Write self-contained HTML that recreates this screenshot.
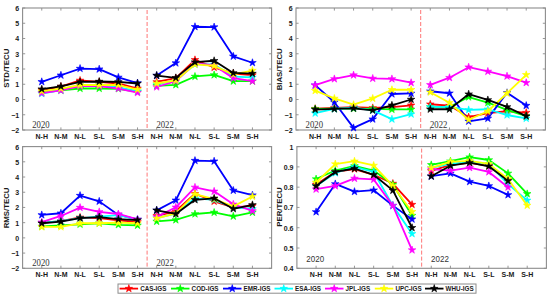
<!DOCTYPE html>
<html><head><meta charset="utf-8"><title>chart</title>
<style>
html,body{margin:0;padding:0;background:#fff;width:550px;height:298px;overflow:hidden}
svg{display:block}
.tl{font-family:"Liberation Sans",sans-serif;font-weight:bold;font-size:7.0px;fill:#1a1a1a}
.yl{font-family:"Liberation Sans",sans-serif;font-weight:bold;font-size:7.8px;fill:#1a1a1a}
.yr{font-family:"Liberation Serif",serif;font-size:8.7px;fill:#333}
.yr2{font-family:"Liberation Sans",sans-serif;font-size:8px;fill:#333}
.lg{font-family:"Liberation Sans",sans-serif;font-weight:bold;font-size:6.3px;fill:#1a1a1a}
</style></head><body>
<svg width="550" height="298" viewBox="0 0 550 298"><rect width="550" height="298" fill="#fff"/><g><rect x="22.6" y="8.0" width="249.00" height="122.0" fill="none" stroke="#8c8c8c" stroke-width="1.1"/><line x1="41.75" y1="130.0" x2="41.75" y2="127.4" stroke="#8c8c8c" stroke-width="0.9"/><line x1="41.75" y1="8.0" x2="41.75" y2="10.6" stroke="#8c8c8c" stroke-width="0.9"/><line x1="60.91" y1="130.0" x2="60.91" y2="127.4" stroke="#8c8c8c" stroke-width="0.9"/><line x1="60.91" y1="8.0" x2="60.91" y2="10.6" stroke="#8c8c8c" stroke-width="0.9"/><line x1="80.06" y1="130.0" x2="80.06" y2="127.4" stroke="#8c8c8c" stroke-width="0.9"/><line x1="80.06" y1="8.0" x2="80.06" y2="10.6" stroke="#8c8c8c" stroke-width="0.9"/><line x1="99.22" y1="130.0" x2="99.22" y2="127.4" stroke="#8c8c8c" stroke-width="0.9"/><line x1="99.22" y1="8.0" x2="99.22" y2="10.6" stroke="#8c8c8c" stroke-width="0.9"/><line x1="118.37" y1="130.0" x2="118.37" y2="127.4" stroke="#8c8c8c" stroke-width="0.9"/><line x1="118.37" y1="8.0" x2="118.37" y2="10.6" stroke="#8c8c8c" stroke-width="0.9"/><line x1="137.52" y1="130.0" x2="137.52" y2="127.4" stroke="#8c8c8c" stroke-width="0.9"/><line x1="137.52" y1="8.0" x2="137.52" y2="10.6" stroke="#8c8c8c" stroke-width="0.9"/><line x1="156.68" y1="130.0" x2="156.68" y2="127.4" stroke="#8c8c8c" stroke-width="0.9"/><line x1="156.68" y1="8.0" x2="156.68" y2="10.6" stroke="#8c8c8c" stroke-width="0.9"/><line x1="175.83" y1="130.0" x2="175.83" y2="127.4" stroke="#8c8c8c" stroke-width="0.9"/><line x1="175.83" y1="8.0" x2="175.83" y2="10.6" stroke="#8c8c8c" stroke-width="0.9"/><line x1="194.98" y1="130.0" x2="194.98" y2="127.4" stroke="#8c8c8c" stroke-width="0.9"/><line x1="194.98" y1="8.0" x2="194.98" y2="10.6" stroke="#8c8c8c" stroke-width="0.9"/><line x1="214.14" y1="130.0" x2="214.14" y2="127.4" stroke="#8c8c8c" stroke-width="0.9"/><line x1="214.14" y1="8.0" x2="214.14" y2="10.6" stroke="#8c8c8c" stroke-width="0.9"/><line x1="233.29" y1="130.0" x2="233.29" y2="127.4" stroke="#8c8c8c" stroke-width="0.9"/><line x1="233.29" y1="8.0" x2="233.29" y2="10.6" stroke="#8c8c8c" stroke-width="0.9"/><line x1="252.45" y1="130.0" x2="252.45" y2="127.4" stroke="#8c8c8c" stroke-width="0.9"/><line x1="252.45" y1="8.0" x2="252.45" y2="10.6" stroke="#8c8c8c" stroke-width="0.9"/><line x1="22.6" y1="130.00" x2="25.200000000000003" y2="130.00" stroke="#8c8c8c" stroke-width="0.9"/><line x1="271.6" y1="130.00" x2="269.0" y2="130.00" stroke="#8c8c8c" stroke-width="0.9"/><line x1="22.6" y1="114.75" x2="25.200000000000003" y2="114.75" stroke="#8c8c8c" stroke-width="0.9"/><line x1="271.6" y1="114.75" x2="269.0" y2="114.75" stroke="#8c8c8c" stroke-width="0.9"/><line x1="22.6" y1="99.50" x2="25.200000000000003" y2="99.50" stroke="#8c8c8c" stroke-width="0.9"/><line x1="271.6" y1="99.50" x2="269.0" y2="99.50" stroke="#8c8c8c" stroke-width="0.9"/><line x1="22.6" y1="84.25" x2="25.200000000000003" y2="84.25" stroke="#8c8c8c" stroke-width="0.9"/><line x1="271.6" y1="84.25" x2="269.0" y2="84.25" stroke="#8c8c8c" stroke-width="0.9"/><line x1="22.6" y1="69.00" x2="25.200000000000003" y2="69.00" stroke="#8c8c8c" stroke-width="0.9"/><line x1="271.6" y1="69.00" x2="269.0" y2="69.00" stroke="#8c8c8c" stroke-width="0.9"/><line x1="22.6" y1="53.75" x2="25.200000000000003" y2="53.75" stroke="#8c8c8c" stroke-width="0.9"/><line x1="271.6" y1="53.75" x2="269.0" y2="53.75" stroke="#8c8c8c" stroke-width="0.9"/><line x1="22.6" y1="38.50" x2="25.200000000000003" y2="38.50" stroke="#8c8c8c" stroke-width="0.9"/><line x1="271.6" y1="38.50" x2="269.0" y2="38.50" stroke="#8c8c8c" stroke-width="0.9"/><line x1="22.6" y1="23.25" x2="25.200000000000003" y2="23.25" stroke="#8c8c8c" stroke-width="0.9"/><line x1="271.6" y1="23.25" x2="269.0" y2="23.25" stroke="#8c8c8c" stroke-width="0.9"/><line x1="22.6" y1="8.00" x2="25.200000000000003" y2="8.00" stroke="#8c8c8c" stroke-width="0.9"/><line x1="271.6" y1="8.00" x2="269.0" y2="8.00" stroke="#8c8c8c" stroke-width="0.9"/><text x="19.20" y="132.90" text-anchor="end" class="tl">−2</text><text x="19.20" y="117.65" text-anchor="end" class="tl">−1</text><text x="19.20" y="102.40" text-anchor="end" class="tl">0</text><text x="19.20" y="87.15" text-anchor="end" class="tl">1</text><text x="19.20" y="71.90" text-anchor="end" class="tl">2</text><text x="19.20" y="56.65" text-anchor="end" class="tl">3</text><text x="19.20" y="41.40" text-anchor="end" class="tl">4</text><text x="19.20" y="26.15" text-anchor="end" class="tl">5</text><text x="19.20" y="10.90" text-anchor="end" class="tl">6</text><text x="41.75" y="138.90" text-anchor="middle" class="tl">N-H</text><text x="60.91" y="138.90" text-anchor="middle" class="tl">N-M</text><text x="80.06" y="138.90" text-anchor="middle" class="tl">N-L</text><text x="99.22" y="138.90" text-anchor="middle" class="tl">S-L</text><text x="118.37" y="138.90" text-anchor="middle" class="tl">S-M</text><text x="137.52" y="138.90" text-anchor="middle" class="tl">S-H</text><text x="156.68" y="138.90" text-anchor="middle" class="tl">N-H</text><text x="175.83" y="138.90" text-anchor="middle" class="tl">N-M</text><text x="194.98" y="138.90" text-anchor="middle" class="tl">N-L</text><text x="214.14" y="138.90" text-anchor="middle" class="tl">S-L</text><text x="233.29" y="138.90" text-anchor="middle" class="tl">S-M</text><text x="252.45" y="138.90" text-anchor="middle" class="tl">S-H</text><text transform="translate(9.20,68.20) rotate(-90)" text-anchor="middle" class="yl">STD/TECU</text><line x1="147.10" y1="8.0" x2="147.10" y2="130.0" stroke="#ff6666" stroke-width="0.9" stroke-dasharray="4,2" stroke-dashoffset="4"/><text transform="translate(32.20,127.80) scale(1,1.13)" class="yr">2020</text><text transform="translate(156.40,127.80) scale(1,1.13)" class="yr">2022</text><polyline points="41.75,90.05 60.91,86.54 80.06,80.44 99.22,81.96 118.37,83.49 137.52,88.52" fill="none" stroke="#ff0000" stroke-width="1.8" stroke-linejoin="round"/><polygon points="41.75,86.05 42.65,88.81 45.56,88.81 43.21,90.52 44.10,93.28 41.75,91.57 39.40,93.28 40.30,90.52 37.95,88.81 40.86,88.81" fill="#ff0000" stroke="#ff0000" stroke-width="0.6" stroke-linejoin="miter"/><polygon points="60.91,82.54 61.81,85.30 64.71,85.30 62.36,87.01 63.26,89.77 60.91,88.07 58.56,89.77 59.45,87.01 57.10,85.30 60.01,85.30" fill="#ff0000" stroke="#ff0000" stroke-width="0.6" stroke-linejoin="miter"/><polygon points="80.06,76.44 80.96,79.20 83.87,79.20 81.51,80.91 82.41,83.67 80.06,81.97 77.71,83.67 78.61,80.91 76.26,79.20 79.16,79.20" fill="#ff0000" stroke="#ff0000" stroke-width="0.6" stroke-linejoin="miter"/><polygon points="99.22,77.96 100.11,80.73 103.02,80.73 100.67,82.43 101.57,85.20 99.22,83.49 96.86,85.20 97.76,82.43 95.41,80.73 98.32,80.73" fill="#ff0000" stroke="#ff0000" stroke-width="0.6" stroke-linejoin="miter"/><polygon points="118.37,79.49 119.27,82.25 122.17,82.25 119.82,83.96 120.72,86.72 118.37,85.02 116.02,86.72 116.92,83.96 114.57,82.25 117.47,82.25" fill="#ff0000" stroke="#ff0000" stroke-width="0.6" stroke-linejoin="miter"/><polygon points="137.52,84.52 138.42,87.28 141.33,87.28 138.98,88.99 139.87,91.76 137.52,90.05 135.17,91.76 136.07,88.99 133.72,87.28 136.62,87.28" fill="#ff0000" stroke="#ff0000" stroke-width="0.6" stroke-linejoin="miter"/><polyline points="156.68,81.96 175.83,78.15 194.98,59.85 214.14,67.48 233.29,73.57 252.45,75.10" fill="none" stroke="#ff0000" stroke-width="1.8" stroke-linejoin="round"/><polygon points="156.68,77.96 157.58,80.73 160.48,80.73 158.13,82.43 159.03,85.20 156.68,83.49 154.33,85.20 155.22,82.43 152.87,80.73 155.78,80.73" fill="#ff0000" stroke="#ff0000" stroke-width="0.6" stroke-linejoin="miter"/><polygon points="175.83,74.15 176.73,76.91 179.63,76.91 177.28,78.62 178.18,81.39 175.83,79.68 173.48,81.39 174.38,78.62 172.03,76.91 174.93,76.91" fill="#ff0000" stroke="#ff0000" stroke-width="0.6" stroke-linejoin="miter"/><polygon points="194.98,55.85 195.88,58.61 198.79,58.61 196.44,60.32 197.34,63.09 194.98,61.38 192.63,63.09 193.53,60.32 191.18,58.61 194.09,58.61" fill="#ff0000" stroke="#ff0000" stroke-width="0.6" stroke-linejoin="miter"/><polygon points="214.14,63.48 215.04,66.24 217.94,66.24 215.59,67.95 216.49,70.71 214.14,69.00 211.79,70.71 212.69,67.95 210.33,66.24 213.24,66.24" fill="#ff0000" stroke="#ff0000" stroke-width="0.6" stroke-linejoin="miter"/><polygon points="233.29,69.57 234.19,72.34 237.10,72.34 234.75,74.05 235.64,76.81 233.29,75.10 230.94,76.81 231.84,74.05 229.49,72.34 232.39,72.34" fill="#ff0000" stroke="#ff0000" stroke-width="0.6" stroke-linejoin="miter"/><polygon points="252.45,71.10 253.34,73.86 256.25,73.86 253.90,75.57 254.80,78.34 252.45,76.63 250.10,78.34 250.99,75.57 248.64,73.86 251.55,73.86" fill="#ff0000" stroke="#ff0000" stroke-width="0.6" stroke-linejoin="miter"/><polyline points="41.75,92.64 60.91,90.35 80.06,88.52 99.22,88.52 118.37,88.82 137.52,91.88" fill="none" stroke="#00ff00" stroke-width="1.8" stroke-linejoin="round"/><polygon points="41.75,88.64 42.65,91.40 45.56,91.40 43.21,93.11 44.10,95.87 41.75,94.17 39.40,95.87 40.30,93.11 37.95,91.40 40.86,91.40" fill="#00ff00" stroke="#00ff00" stroke-width="0.6" stroke-linejoin="miter"/><polygon points="60.91,86.35 61.81,89.11 64.71,89.11 62.36,90.82 63.26,93.59 60.91,91.88 58.56,93.59 59.45,90.82 57.10,89.11 60.01,89.11" fill="#00ff00" stroke="#00ff00" stroke-width="0.6" stroke-linejoin="miter"/><polygon points="80.06,84.52 80.96,87.28 83.87,87.28 81.51,88.99 82.41,91.76 80.06,90.05 77.71,91.76 78.61,88.99 76.26,87.28 79.16,87.28" fill="#00ff00" stroke="#00ff00" stroke-width="0.6" stroke-linejoin="miter"/><polygon points="99.22,84.52 100.11,87.28 103.02,87.28 100.67,88.99 101.57,91.76 99.22,90.05 96.86,91.76 97.76,88.99 95.41,87.28 98.32,87.28" fill="#00ff00" stroke="#00ff00" stroke-width="0.6" stroke-linejoin="miter"/><polygon points="118.37,84.82 119.27,87.59 122.17,87.59 119.82,89.30 120.72,92.06 118.37,90.35 116.02,92.06 116.92,89.30 114.57,87.59 117.47,87.59" fill="#00ff00" stroke="#00ff00" stroke-width="0.6" stroke-linejoin="miter"/><polygon points="137.52,87.88 138.42,90.64 141.33,90.64 138.98,92.35 139.87,95.11 137.52,93.40 135.17,95.11 136.07,92.35 133.72,90.64 136.62,90.64" fill="#00ff00" stroke="#00ff00" stroke-width="0.6" stroke-linejoin="miter"/><polyline points="156.68,85.78 175.83,84.86 194.98,76.47 214.14,74.95 233.29,81.20 252.45,81.20" fill="none" stroke="#00ff00" stroke-width="1.8" stroke-linejoin="round"/><polygon points="156.68,81.78 157.58,84.54 160.48,84.54 158.13,86.25 159.03,89.01 156.68,87.30 154.33,89.01 155.22,86.25 152.87,84.54 155.78,84.54" fill="#00ff00" stroke="#00ff00" stroke-width="0.6" stroke-linejoin="miter"/><polygon points="175.83,80.86 176.73,83.62 179.63,83.62 177.28,85.33 178.18,88.10 175.83,86.39 173.48,88.10 174.38,85.33 172.03,83.62 174.93,83.62" fill="#00ff00" stroke="#00ff00" stroke-width="0.6" stroke-linejoin="miter"/><polygon points="194.98,72.47 195.88,75.24 198.79,75.24 196.44,76.94 197.34,79.71 194.98,78.00 192.63,79.71 193.53,76.94 191.18,75.24 194.09,75.24" fill="#00ff00" stroke="#00ff00" stroke-width="0.6" stroke-linejoin="miter"/><polygon points="214.14,70.95 215.04,73.71 217.94,73.71 215.59,75.42 216.49,78.18 214.14,76.48 211.79,78.18 212.69,75.42 210.33,73.71 213.24,73.71" fill="#00ff00" stroke="#00ff00" stroke-width="0.6" stroke-linejoin="miter"/><polygon points="233.29,77.20 234.19,79.96 237.10,79.96 234.75,81.67 235.64,84.44 233.29,82.73 230.94,84.44 231.84,81.67 229.49,79.96 232.39,79.96" fill="#00ff00" stroke="#00ff00" stroke-width="0.6" stroke-linejoin="miter"/><polygon points="252.45,77.20 253.34,79.96 256.25,79.96 253.90,81.67 254.80,84.44 252.45,82.73 250.10,84.44 250.99,81.67 248.64,79.96 251.55,79.96" fill="#00ff00" stroke="#00ff00" stroke-width="0.6" stroke-linejoin="miter"/><polyline points="41.75,81.81 60.91,75.25 80.06,68.54 99.22,69.15 118.37,77.39 137.52,83.03" fill="none" stroke="#0000ff" stroke-width="1.8" stroke-linejoin="round"/><polygon points="41.75,77.81 42.65,80.57 45.56,80.57 43.21,82.28 44.10,85.05 41.75,83.34 39.40,85.05 40.30,82.28 37.95,80.57 40.86,80.57" fill="#0000ff" stroke="#0000ff" stroke-width="0.6" stroke-linejoin="miter"/><polygon points="60.91,71.25 61.81,74.02 64.71,74.02 62.36,75.72 63.26,78.49 60.91,76.78 58.56,78.49 59.45,75.72 57.10,74.02 60.01,74.02" fill="#0000ff" stroke="#0000ff" stroke-width="0.6" stroke-linejoin="miter"/><polygon points="80.06,64.54 80.96,67.31 83.87,67.31 81.51,69.01 82.41,71.78 80.06,70.07 77.71,71.78 78.61,69.01 76.26,67.31 79.16,67.31" fill="#0000ff" stroke="#0000ff" stroke-width="0.6" stroke-linejoin="miter"/><polygon points="99.22,65.15 100.11,67.92 103.02,67.92 100.67,69.62 101.57,72.39 99.22,70.68 96.86,72.39 97.76,69.62 95.41,67.92 98.32,67.92" fill="#0000ff" stroke="#0000ff" stroke-width="0.6" stroke-linejoin="miter"/><polygon points="118.37,73.39 119.27,76.15 122.17,76.15 119.82,77.86 120.72,80.62 118.37,78.92 116.02,80.62 116.92,77.86 114.57,76.15 117.47,76.15" fill="#0000ff" stroke="#0000ff" stroke-width="0.6" stroke-linejoin="miter"/><polygon points="137.52,79.03 138.42,81.79 141.33,81.79 138.98,83.50 139.87,86.27 137.52,84.56 135.17,86.27 136.07,83.50 133.72,81.79 136.62,81.79" fill="#0000ff" stroke="#0000ff" stroke-width="0.6" stroke-linejoin="miter"/><polyline points="156.68,75.56 175.83,63.05 194.98,26.76 214.14,27.06 233.29,56.34 252.45,62.75" fill="none" stroke="#0000ff" stroke-width="1.8" stroke-linejoin="round"/><polygon points="156.68,71.56 157.58,74.32 160.48,74.32 158.13,76.03 159.03,78.79 156.68,77.09 154.33,78.79 155.22,76.03 152.87,74.32 155.78,74.32" fill="#0000ff" stroke="#0000ff" stroke-width="0.6" stroke-linejoin="miter"/><polygon points="175.83,59.05 176.73,61.82 179.63,61.82 177.28,63.52 178.18,66.29 175.83,64.58 173.48,66.29 174.38,63.52 172.03,61.82 174.93,61.82" fill="#0000ff" stroke="#0000ff" stroke-width="0.6" stroke-linejoin="miter"/><polygon points="194.98,22.76 195.88,25.52 198.79,25.52 196.44,27.23 197.34,29.99 194.98,28.29 192.63,29.99 193.53,27.23 191.18,25.52 194.09,25.52" fill="#0000ff" stroke="#0000ff" stroke-width="0.6" stroke-linejoin="miter"/><polygon points="214.14,23.06 215.04,25.83 217.94,25.83 215.59,27.53 216.49,30.30 214.14,28.59 211.79,30.30 212.69,27.53 210.33,25.83 213.24,25.83" fill="#0000ff" stroke="#0000ff" stroke-width="0.6" stroke-linejoin="miter"/><polygon points="233.29,52.34 234.19,55.11 237.10,55.11 234.75,56.81 235.64,59.58 233.29,57.87 230.94,59.58 231.84,56.81 229.49,55.11 232.39,55.11" fill="#0000ff" stroke="#0000ff" stroke-width="0.6" stroke-linejoin="miter"/><polygon points="252.45,58.75 253.34,61.51 256.25,61.51 253.90,63.22 254.80,65.98 252.45,64.28 250.10,65.98 250.99,63.22 248.64,61.51 251.55,61.51" fill="#0000ff" stroke="#0000ff" stroke-width="0.6" stroke-linejoin="miter"/><polyline points="41.75,93.70 60.91,90.05 80.06,85.01 99.22,85.01 118.37,87.30 137.52,91.11" fill="none" stroke="#00ffff" stroke-width="1.8" stroke-linejoin="round"/><polygon points="41.75,89.70 42.65,92.47 45.56,92.47 43.21,94.18 44.10,96.94 41.75,95.23 39.40,96.94 40.30,94.18 37.95,92.47 40.86,92.47" fill="#00ffff" stroke="#00ffff" stroke-width="0.6" stroke-linejoin="miter"/><polygon points="60.91,86.05 61.81,88.81 64.71,88.81 62.36,90.52 63.26,93.28 60.91,91.57 58.56,93.28 59.45,90.52 57.10,88.81 60.01,88.81" fill="#00ffff" stroke="#00ffff" stroke-width="0.6" stroke-linejoin="miter"/><polygon points="80.06,81.01 80.96,83.78 83.87,83.78 81.51,85.48 82.41,88.25 80.06,86.54 77.71,88.25 78.61,85.48 76.26,83.78 79.16,83.78" fill="#00ffff" stroke="#00ffff" stroke-width="0.6" stroke-linejoin="miter"/><polygon points="99.22,81.01 100.11,83.78 103.02,83.78 100.67,85.48 101.57,88.25 99.22,86.54 96.86,88.25 97.76,85.48 95.41,83.78 98.32,83.78" fill="#00ffff" stroke="#00ffff" stroke-width="0.6" stroke-linejoin="miter"/><polygon points="118.37,83.30 119.27,86.06 122.17,86.06 119.82,87.77 120.72,90.54 118.37,88.83 116.02,90.54 116.92,87.77 114.57,86.06 117.47,86.06" fill="#00ffff" stroke="#00ffff" stroke-width="0.6" stroke-linejoin="miter"/><polygon points="137.52,87.11 138.42,89.88 141.33,89.88 138.98,91.58 139.87,94.35 137.52,92.64 135.17,94.35 136.07,91.58 133.72,89.88 136.62,89.88" fill="#00ffff" stroke="#00ffff" stroke-width="0.6" stroke-linejoin="miter"/><polyline points="156.68,84.25 175.83,80.44 194.98,64.42 214.14,64.42 233.29,76.62 252.45,77.39" fill="none" stroke="#00ffff" stroke-width="1.8" stroke-linejoin="round"/><polygon points="156.68,80.25 157.58,83.01 160.48,83.01 158.13,84.72 159.03,87.49 156.68,85.78 154.33,87.49 155.22,84.72 152.87,83.01 155.78,83.01" fill="#00ffff" stroke="#00ffff" stroke-width="0.6" stroke-linejoin="miter"/><polygon points="175.83,76.44 176.73,79.20 179.63,79.20 177.28,80.91 178.18,83.67 175.83,81.97 173.48,83.67 174.38,80.91 172.03,79.20 174.93,79.20" fill="#00ffff" stroke="#00ffff" stroke-width="0.6" stroke-linejoin="miter"/><polygon points="194.98,60.42 195.88,63.19 198.79,63.19 196.44,64.90 197.34,67.66 194.98,65.95 192.63,67.66 193.53,64.90 191.18,63.19 194.09,63.19" fill="#00ffff" stroke="#00ffff" stroke-width="0.6" stroke-linejoin="miter"/><polygon points="214.14,60.42 215.04,63.19 217.94,63.19 215.59,64.90 216.49,67.66 214.14,65.95 211.79,67.66 212.69,64.90 210.33,63.19 213.24,63.19" fill="#00ffff" stroke="#00ffff" stroke-width="0.6" stroke-linejoin="miter"/><polygon points="233.29,72.62 234.19,75.39 237.10,75.39 234.75,77.10 235.64,79.86 233.29,78.15 230.94,79.86 231.84,77.10 229.49,75.39 232.39,75.39" fill="#00ffff" stroke="#00ffff" stroke-width="0.6" stroke-linejoin="miter"/><polygon points="252.45,73.39 253.34,76.15 256.25,76.15 253.90,77.86 254.80,80.62 252.45,78.92 250.10,80.62 250.99,77.86 248.64,76.15 251.55,76.15" fill="#00ffff" stroke="#00ffff" stroke-width="0.6" stroke-linejoin="miter"/><polyline points="41.75,93.09 60.91,90.35 80.06,86.08 99.22,86.08 118.37,88.52 137.52,92.64" fill="none" stroke="#ff00ff" stroke-width="1.8" stroke-linejoin="round"/><polygon points="41.75,89.09 42.65,91.86 45.56,91.86 43.21,93.57 44.10,96.33 41.75,94.62 39.40,96.33 40.30,93.57 37.95,91.86 40.86,91.86" fill="#ff00ff" stroke="#ff00ff" stroke-width="0.6" stroke-linejoin="miter"/><polygon points="60.91,86.35 61.81,89.11 64.71,89.11 62.36,90.82 63.26,93.59 60.91,91.88 58.56,93.59 59.45,90.82 57.10,89.11 60.01,89.11" fill="#ff00ff" stroke="#ff00ff" stroke-width="0.6" stroke-linejoin="miter"/><polygon points="80.06,82.08 80.96,84.84 83.87,84.84 81.51,86.55 82.41,89.32 80.06,87.61 77.71,89.32 78.61,86.55 76.26,84.84 79.16,84.84" fill="#ff00ff" stroke="#ff00ff" stroke-width="0.6" stroke-linejoin="miter"/><polygon points="99.22,82.08 100.11,84.84 103.02,84.84 100.67,86.55 101.57,89.32 99.22,87.61 96.86,89.32 97.76,86.55 95.41,84.84 98.32,84.84" fill="#ff00ff" stroke="#ff00ff" stroke-width="0.6" stroke-linejoin="miter"/><polygon points="118.37,84.52 119.27,87.28 122.17,87.28 119.82,88.99 120.72,91.76 118.37,90.05 116.02,91.76 116.92,88.99 114.57,87.28 117.47,87.28" fill="#ff00ff" stroke="#ff00ff" stroke-width="0.6" stroke-linejoin="miter"/><polygon points="137.52,88.64 138.42,91.40 141.33,91.40 138.98,93.11 139.87,95.87 137.52,94.17 135.17,95.87 136.07,93.11 133.72,91.40 136.62,91.40" fill="#ff00ff" stroke="#ff00ff" stroke-width="0.6" stroke-linejoin="miter"/><polyline points="156.68,87.00 175.83,81.20 194.98,63.66 214.14,65.19 233.29,78.15 252.45,81.20" fill="none" stroke="#ff00ff" stroke-width="1.8" stroke-linejoin="round"/><polygon points="156.68,83.00 157.58,85.76 160.48,85.76 158.13,87.47 159.03,90.23 156.68,88.52 154.33,90.23 155.22,87.47 152.87,85.76 155.78,85.76" fill="#ff00ff" stroke="#ff00ff" stroke-width="0.6" stroke-linejoin="miter"/><polygon points="175.83,77.20 176.73,79.96 179.63,79.96 177.28,81.67 178.18,84.44 175.83,82.73 173.48,84.44 174.38,81.67 172.03,79.96 174.93,79.96" fill="#ff00ff" stroke="#ff00ff" stroke-width="0.6" stroke-linejoin="miter"/><polygon points="194.98,59.66 195.88,62.43 198.79,62.43 196.44,64.13 197.34,66.90 194.98,65.19 192.63,66.90 193.53,64.13 191.18,62.43 194.09,62.43" fill="#ff00ff" stroke="#ff00ff" stroke-width="0.6" stroke-linejoin="miter"/><polygon points="214.14,61.19 215.04,63.95 217.94,63.95 215.59,65.66 216.49,68.42 214.14,66.72 211.79,68.42 212.69,65.66 210.33,63.95 213.24,63.95" fill="#ff00ff" stroke="#ff00ff" stroke-width="0.6" stroke-linejoin="miter"/><polygon points="233.29,74.15 234.19,76.91 237.10,76.91 234.75,78.62 235.64,81.39 233.29,79.68 230.94,81.39 231.84,78.62 229.49,76.91 232.39,76.91" fill="#ff00ff" stroke="#ff00ff" stroke-width="0.6" stroke-linejoin="miter"/><polygon points="252.45,77.20 253.34,79.96 256.25,79.96 253.90,81.67 254.80,84.44 252.45,82.73 250.10,84.44 250.99,81.67 248.64,79.96 251.55,79.96" fill="#ff00ff" stroke="#ff00ff" stroke-width="0.6" stroke-linejoin="miter"/><polyline points="41.75,91.11 60.91,88.52 80.06,85.01 99.22,85.01 118.37,85.01 137.52,89.59" fill="none" stroke="#ffff00" stroke-width="1.8" stroke-linejoin="round"/><polygon points="41.75,87.11 42.65,89.88 45.56,89.88 43.21,91.58 44.10,94.35 41.75,92.64 39.40,94.35 40.30,91.58 37.95,89.88 40.86,89.88" fill="#ffff00" stroke="#ffff00" stroke-width="0.6" stroke-linejoin="miter"/><polygon points="60.91,84.52 61.81,87.28 64.71,87.28 62.36,88.99 63.26,91.76 60.91,90.05 58.56,91.76 59.45,88.99 57.10,87.28 60.01,87.28" fill="#ffff00" stroke="#ffff00" stroke-width="0.6" stroke-linejoin="miter"/><polygon points="80.06,81.01 80.96,83.78 83.87,83.78 81.51,85.48 82.41,88.25 80.06,86.54 77.71,88.25 78.61,85.48 76.26,83.78 79.16,83.78" fill="#ffff00" stroke="#ffff00" stroke-width="0.6" stroke-linejoin="miter"/><polygon points="99.22,81.01 100.11,83.78 103.02,83.78 100.67,85.48 101.57,88.25 99.22,86.54 96.86,88.25 97.76,85.48 95.41,83.78 98.32,83.78" fill="#ffff00" stroke="#ffff00" stroke-width="0.6" stroke-linejoin="miter"/><polygon points="118.37,81.01 119.27,83.78 122.17,83.78 119.82,85.48 120.72,88.25 118.37,86.54 116.02,88.25 116.92,85.48 114.57,83.78 117.47,83.78" fill="#ffff00" stroke="#ffff00" stroke-width="0.6" stroke-linejoin="miter"/><polygon points="137.52,85.59 138.42,88.35 141.33,88.35 138.98,90.06 139.87,92.82 137.52,91.12 135.17,92.82 136.07,90.06 133.72,88.35 136.62,88.35" fill="#ffff00" stroke="#ffff00" stroke-width="0.6" stroke-linejoin="miter"/><polyline points="156.68,83.49 175.83,80.44 194.98,64.42 214.14,65.95 233.29,74.34 252.45,70.53" fill="none" stroke="#ffff00" stroke-width="1.8" stroke-linejoin="round"/><polygon points="156.68,79.49 157.58,82.25 160.48,82.25 158.13,83.96 159.03,86.72 156.68,85.02 154.33,86.72 155.22,83.96 152.87,82.25 155.78,82.25" fill="#ffff00" stroke="#ffff00" stroke-width="0.6" stroke-linejoin="miter"/><polygon points="175.83,76.44 176.73,79.20 179.63,79.20 177.28,80.91 178.18,83.67 175.83,81.97 173.48,83.67 174.38,80.91 172.03,79.20 174.93,79.20" fill="#ffff00" stroke="#ffff00" stroke-width="0.6" stroke-linejoin="miter"/><polygon points="194.98,60.42 195.88,63.19 198.79,63.19 196.44,64.90 197.34,67.66 194.98,65.95 192.63,67.66 193.53,64.90 191.18,63.19 194.09,63.19" fill="#ffff00" stroke="#ffff00" stroke-width="0.6" stroke-linejoin="miter"/><polygon points="214.14,61.95 215.04,64.71 217.94,64.71 215.59,66.42 216.49,69.19 214.14,67.48 211.79,69.19 212.69,66.42 210.33,64.71 213.24,64.71" fill="#ffff00" stroke="#ffff00" stroke-width="0.6" stroke-linejoin="miter"/><polygon points="233.29,70.34 234.19,73.10 237.10,73.10 234.75,74.81 235.64,77.57 233.29,75.87 230.94,77.57 231.84,74.81 229.49,73.10 232.39,73.10" fill="#ffff00" stroke="#ffff00" stroke-width="0.6" stroke-linejoin="miter"/><polygon points="252.45,66.53 253.34,69.29 256.25,69.29 253.90,71.00 254.80,73.76 252.45,72.05 250.10,73.76 250.99,71.00 248.64,69.29 251.55,69.29" fill="#ffff00" stroke="#ffff00" stroke-width="0.6" stroke-linejoin="miter"/><polyline points="41.75,89.13 60.91,86.39 80.06,81.96 99.22,81.50 118.37,81.96 137.52,83.49" fill="none" stroke="#000000" stroke-width="1.8" stroke-linejoin="round"/><polygon points="41.75,85.13 42.65,87.89 45.56,87.89 43.21,89.60 44.10,92.37 41.75,90.66 39.40,92.37 40.30,89.60 37.95,87.89 40.86,87.89" fill="#000000" stroke="#000000" stroke-width="0.6" stroke-linejoin="miter"/><polygon points="60.91,82.39 61.81,85.15 64.71,85.15 62.36,86.86 63.26,89.62 60.91,87.91 58.56,89.62 59.45,86.86 57.10,85.15 60.01,85.15" fill="#000000" stroke="#000000" stroke-width="0.6" stroke-linejoin="miter"/><polygon points="80.06,77.96 80.96,80.73 83.87,80.73 81.51,82.43 82.41,85.20 80.06,83.49 77.71,85.20 78.61,82.43 76.26,80.73 79.16,80.73" fill="#000000" stroke="#000000" stroke-width="0.6" stroke-linejoin="miter"/><polygon points="99.22,77.50 100.11,80.27 103.02,80.27 100.67,81.98 101.57,84.74 99.22,83.03 96.86,84.74 97.76,81.98 95.41,80.27 98.32,80.27" fill="#000000" stroke="#000000" stroke-width="0.6" stroke-linejoin="miter"/><polygon points="118.37,77.96 119.27,80.73 122.17,80.73 119.82,82.43 120.72,85.20 118.37,83.49 116.02,85.20 116.92,82.43 114.57,80.73 117.47,80.73" fill="#000000" stroke="#000000" stroke-width="0.6" stroke-linejoin="miter"/><polygon points="137.52,79.49 138.42,82.25 141.33,82.25 138.98,83.96 139.87,86.72 137.52,85.02 135.17,86.72 136.07,83.96 133.72,82.25 136.62,82.25" fill="#000000" stroke="#000000" stroke-width="0.6" stroke-linejoin="miter"/><polyline points="156.68,75.56 175.83,77.84 194.98,62.14 214.14,60.77 233.29,72.97 252.45,73.57" fill="none" stroke="#000000" stroke-width="1.8" stroke-linejoin="round"/><polygon points="156.68,71.56 157.58,74.32 160.48,74.32 158.13,76.03 159.03,78.79 156.68,77.09 154.33,78.79 155.22,76.03 152.87,74.32 155.78,74.32" fill="#000000" stroke="#000000" stroke-width="0.6" stroke-linejoin="miter"/><polygon points="175.83,73.84 176.73,76.61 179.63,76.61 177.28,78.32 178.18,81.08 175.83,79.37 173.48,81.08 174.38,78.32 172.03,76.61 174.93,76.61" fill="#000000" stroke="#000000" stroke-width="0.6" stroke-linejoin="miter"/><polygon points="194.98,58.14 195.88,60.90 198.79,60.90 196.44,62.61 197.34,65.37 194.98,63.67 192.63,65.37 193.53,62.61 191.18,60.90 194.09,60.90" fill="#000000" stroke="#000000" stroke-width="0.6" stroke-linejoin="miter"/><polygon points="214.14,56.77 215.04,59.53 217.94,59.53 215.59,61.24 216.49,64.00 214.14,62.29 211.79,64.00 212.69,61.24 210.33,59.53 213.24,59.53" fill="#000000" stroke="#000000" stroke-width="0.6" stroke-linejoin="miter"/><polygon points="233.29,68.97 234.19,71.73 237.10,71.73 234.75,73.44 235.64,76.20 233.29,74.49 230.94,76.20 231.84,73.44 229.49,71.73 232.39,71.73" fill="#000000" stroke="#000000" stroke-width="0.6" stroke-linejoin="miter"/><polygon points="252.45,69.57 253.34,72.34 256.25,72.34 253.90,74.05 254.80,76.81 252.45,75.10 250.10,76.81 250.99,74.05 248.64,72.34 251.55,72.34" fill="#000000" stroke="#000000" stroke-width="0.6" stroke-linejoin="miter"/></g><g><rect x="296.0" y="8.0" width="249.40" height="122.0" fill="none" stroke="#8c8c8c" stroke-width="1.1"/><line x1="315.18" y1="130.0" x2="315.18" y2="127.4" stroke="#8c8c8c" stroke-width="0.9"/><line x1="315.18" y1="8.0" x2="315.18" y2="10.6" stroke="#8c8c8c" stroke-width="0.9"/><line x1="334.37" y1="130.0" x2="334.37" y2="127.4" stroke="#8c8c8c" stroke-width="0.9"/><line x1="334.37" y1="8.0" x2="334.37" y2="10.6" stroke="#8c8c8c" stroke-width="0.9"/><line x1="353.55" y1="130.0" x2="353.55" y2="127.4" stroke="#8c8c8c" stroke-width="0.9"/><line x1="353.55" y1="8.0" x2="353.55" y2="10.6" stroke="#8c8c8c" stroke-width="0.9"/><line x1="372.74" y1="130.0" x2="372.74" y2="127.4" stroke="#8c8c8c" stroke-width="0.9"/><line x1="372.74" y1="8.0" x2="372.74" y2="10.6" stroke="#8c8c8c" stroke-width="0.9"/><line x1="391.92" y1="130.0" x2="391.92" y2="127.4" stroke="#8c8c8c" stroke-width="0.9"/><line x1="391.92" y1="8.0" x2="391.92" y2="10.6" stroke="#8c8c8c" stroke-width="0.9"/><line x1="411.11" y1="130.0" x2="411.11" y2="127.4" stroke="#8c8c8c" stroke-width="0.9"/><line x1="411.11" y1="8.0" x2="411.11" y2="10.6" stroke="#8c8c8c" stroke-width="0.9"/><line x1="430.29" y1="130.0" x2="430.29" y2="127.4" stroke="#8c8c8c" stroke-width="0.9"/><line x1="430.29" y1="8.0" x2="430.29" y2="10.6" stroke="#8c8c8c" stroke-width="0.9"/><line x1="449.48" y1="130.0" x2="449.48" y2="127.4" stroke="#8c8c8c" stroke-width="0.9"/><line x1="449.48" y1="8.0" x2="449.48" y2="10.6" stroke="#8c8c8c" stroke-width="0.9"/><line x1="468.66" y1="130.0" x2="468.66" y2="127.4" stroke="#8c8c8c" stroke-width="0.9"/><line x1="468.66" y1="8.0" x2="468.66" y2="10.6" stroke="#8c8c8c" stroke-width="0.9"/><line x1="487.85" y1="130.0" x2="487.85" y2="127.4" stroke="#8c8c8c" stroke-width="0.9"/><line x1="487.85" y1="8.0" x2="487.85" y2="10.6" stroke="#8c8c8c" stroke-width="0.9"/><line x1="507.03" y1="130.0" x2="507.03" y2="127.4" stroke="#8c8c8c" stroke-width="0.9"/><line x1="507.03" y1="8.0" x2="507.03" y2="10.6" stroke="#8c8c8c" stroke-width="0.9"/><line x1="526.22" y1="130.0" x2="526.22" y2="127.4" stroke="#8c8c8c" stroke-width="0.9"/><line x1="526.22" y1="8.0" x2="526.22" y2="10.6" stroke="#8c8c8c" stroke-width="0.9"/><line x1="296.0" y1="130.00" x2="298.6" y2="130.00" stroke="#8c8c8c" stroke-width="0.9"/><line x1="545.4" y1="130.00" x2="542.8" y2="130.00" stroke="#8c8c8c" stroke-width="0.9"/><line x1="296.0" y1="114.75" x2="298.6" y2="114.75" stroke="#8c8c8c" stroke-width="0.9"/><line x1="545.4" y1="114.75" x2="542.8" y2="114.75" stroke="#8c8c8c" stroke-width="0.9"/><line x1="296.0" y1="99.50" x2="298.6" y2="99.50" stroke="#8c8c8c" stroke-width="0.9"/><line x1="545.4" y1="99.50" x2="542.8" y2="99.50" stroke="#8c8c8c" stroke-width="0.9"/><line x1="296.0" y1="84.25" x2="298.6" y2="84.25" stroke="#8c8c8c" stroke-width="0.9"/><line x1="545.4" y1="84.25" x2="542.8" y2="84.25" stroke="#8c8c8c" stroke-width="0.9"/><line x1="296.0" y1="69.00" x2="298.6" y2="69.00" stroke="#8c8c8c" stroke-width="0.9"/><line x1="545.4" y1="69.00" x2="542.8" y2="69.00" stroke="#8c8c8c" stroke-width="0.9"/><line x1="296.0" y1="53.75" x2="298.6" y2="53.75" stroke="#8c8c8c" stroke-width="0.9"/><line x1="545.4" y1="53.75" x2="542.8" y2="53.75" stroke="#8c8c8c" stroke-width="0.9"/><line x1="296.0" y1="38.50" x2="298.6" y2="38.50" stroke="#8c8c8c" stroke-width="0.9"/><line x1="545.4" y1="38.50" x2="542.8" y2="38.50" stroke="#8c8c8c" stroke-width="0.9"/><line x1="296.0" y1="23.25" x2="298.6" y2="23.25" stroke="#8c8c8c" stroke-width="0.9"/><line x1="545.4" y1="23.25" x2="542.8" y2="23.25" stroke="#8c8c8c" stroke-width="0.9"/><line x1="296.0" y1="8.00" x2="298.6" y2="8.00" stroke="#8c8c8c" stroke-width="0.9"/><line x1="545.4" y1="8.00" x2="542.8" y2="8.00" stroke="#8c8c8c" stroke-width="0.9"/><text x="292.60" y="132.90" text-anchor="end" class="tl">−2</text><text x="292.60" y="117.65" text-anchor="end" class="tl">−1</text><text x="292.60" y="102.40" text-anchor="end" class="tl">0</text><text x="292.60" y="87.15" text-anchor="end" class="tl">1</text><text x="292.60" y="71.90" text-anchor="end" class="tl">2</text><text x="292.60" y="56.65" text-anchor="end" class="tl">3</text><text x="292.60" y="41.40" text-anchor="end" class="tl">4</text><text x="292.60" y="26.15" text-anchor="end" class="tl">5</text><text x="292.60" y="10.90" text-anchor="end" class="tl">6</text><text x="315.18" y="138.90" text-anchor="middle" class="tl">N-H</text><text x="334.37" y="138.90" text-anchor="middle" class="tl">N-M</text><text x="353.55" y="138.90" text-anchor="middle" class="tl">N-L</text><text x="372.74" y="138.90" text-anchor="middle" class="tl">S-L</text><text x="391.92" y="138.90" text-anchor="middle" class="tl">S-M</text><text x="411.11" y="138.90" text-anchor="middle" class="tl">S-H</text><text x="430.29" y="138.90" text-anchor="middle" class="tl">N-H</text><text x="449.48" y="138.90" text-anchor="middle" class="tl">N-M</text><text x="468.66" y="138.90" text-anchor="middle" class="tl">N-L</text><text x="487.85" y="138.90" text-anchor="middle" class="tl">S-L</text><text x="507.03" y="138.90" text-anchor="middle" class="tl">S-M</text><text x="526.22" y="138.90" text-anchor="middle" class="tl">S-H</text><text transform="translate(282.00,69.30) rotate(-90)" text-anchor="middle" class="yl">BIAS/TECU</text><line x1="420.70" y1="8.0" x2="420.70" y2="130.0" stroke="#ff6666" stroke-width="0.9" stroke-dasharray="4,2" stroke-dashoffset="4"/><text transform="translate(305.60,127.80) scale(1,1.13)" class="yr">2020</text><text transform="translate(430.00,127.80) scale(1,1.13)" class="yr">2022</text><polyline points="315.18,108.65 334.37,107.89 353.55,107.12 372.74,107.89 391.92,107.12 411.11,105.30" fill="none" stroke="#ff0000" stroke-width="1.8" stroke-linejoin="round"/><polygon points="315.18,104.65 316.08,107.41 318.99,107.41 316.64,109.12 317.54,111.89 315.18,110.18 312.83,111.89 313.73,109.12 311.38,107.41 314.29,107.41" fill="#ff0000" stroke="#ff0000" stroke-width="0.6" stroke-linejoin="miter"/><polygon points="334.37,103.89 335.27,106.65 338.17,106.65 335.82,108.36 336.72,111.12 334.37,109.42 332.02,111.12 332.92,108.36 330.57,106.65 333.47,106.65" fill="#ff0000" stroke="#ff0000" stroke-width="0.6" stroke-linejoin="miter"/><polygon points="353.55,103.12 354.45,105.89 357.36,105.89 355.01,107.60 355.90,110.36 353.55,108.65 351.20,110.36 352.10,107.60 349.75,105.89 352.66,105.89" fill="#ff0000" stroke="#ff0000" stroke-width="0.6" stroke-linejoin="miter"/><polygon points="372.74,103.89 373.64,106.65 376.54,106.65 374.19,108.36 375.09,111.12 372.74,109.42 370.39,111.12 371.29,108.36 368.93,106.65 371.84,106.65" fill="#ff0000" stroke="#ff0000" stroke-width="0.6" stroke-linejoin="miter"/><polygon points="391.92,103.12 392.82,105.89 395.73,105.89 393.38,107.60 394.27,110.36 391.92,108.65 389.57,110.36 390.47,107.60 388.12,105.89 391.02,105.89" fill="#ff0000" stroke="#ff0000" stroke-width="0.6" stroke-linejoin="miter"/><polygon points="411.11,101.30 412.01,104.06 414.91,104.06 412.56,105.77 413.46,108.53 411.11,106.82 408.76,108.53 409.65,105.77 407.30,104.06 410.21,104.06" fill="#ff0000" stroke="#ff0000" stroke-width="0.6" stroke-linejoin="miter"/><polyline points="430.29,104.23 449.48,105.60 468.66,117.04 487.85,113.22 507.03,111.24 526.22,112.61" fill="none" stroke="#ff0000" stroke-width="1.8" stroke-linejoin="round"/><polygon points="430.29,100.23 431.19,102.99 434.10,102.99 431.75,104.70 432.64,107.46 430.29,105.76 427.94,107.46 428.84,104.70 426.49,102.99 429.39,102.99" fill="#ff0000" stroke="#ff0000" stroke-width="0.6" stroke-linejoin="miter"/><polygon points="449.48,101.60 450.38,104.36 453.28,104.36 450.93,106.07 451.83,108.84 449.48,107.13 447.13,108.84 448.02,106.07 445.67,104.36 448.58,104.36" fill="#ff0000" stroke="#ff0000" stroke-width="0.6" stroke-linejoin="miter"/><polygon points="468.66,113.04 469.56,115.80 472.47,115.80 470.11,117.51 471.01,120.27 468.66,118.57 466.31,120.27 467.21,117.51 464.86,115.80 467.76,115.80" fill="#ff0000" stroke="#ff0000" stroke-width="0.6" stroke-linejoin="miter"/><polygon points="487.85,109.22 488.74,111.99 491.65,111.99 489.30,113.70 490.20,116.46 487.85,114.75 485.50,116.46 486.39,113.70 484.04,111.99 486.95,111.99" fill="#ff0000" stroke="#ff0000" stroke-width="0.6" stroke-linejoin="miter"/><polygon points="507.03,107.24 507.93,110.01 510.83,110.01 508.48,111.71 509.38,114.48 507.03,112.77 504.68,114.48 505.58,111.71 503.23,110.01 506.13,110.01" fill="#ff0000" stroke="#ff0000" stroke-width="0.6" stroke-linejoin="miter"/><polygon points="526.22,108.61 527.11,111.38 530.02,111.38 527.67,113.09 528.57,115.85 526.22,114.14 523.86,115.85 524.76,113.09 522.41,111.38 525.32,111.38" fill="#ff0000" stroke="#ff0000" stroke-width="0.6" stroke-linejoin="miter"/><polyline points="315.18,108.95 334.37,108.65 353.55,108.65 372.74,108.95 391.92,109.41 411.11,109.41" fill="none" stroke="#00ff00" stroke-width="1.8" stroke-linejoin="round"/><polygon points="315.18,104.95 316.08,107.72 318.99,107.72 316.64,109.43 317.54,112.19 315.18,110.48 312.83,112.19 313.73,109.43 311.38,107.72 314.29,107.72" fill="#00ff00" stroke="#00ff00" stroke-width="0.6" stroke-linejoin="miter"/><polygon points="334.37,104.65 335.27,107.41 338.17,107.41 335.82,109.12 336.72,111.89 334.37,110.18 332.02,111.89 332.92,109.12 330.57,107.41 333.47,107.41" fill="#00ff00" stroke="#00ff00" stroke-width="0.6" stroke-linejoin="miter"/><polygon points="353.55,104.65 354.45,107.41 357.36,107.41 355.01,109.12 355.90,111.89 353.55,110.18 351.20,111.89 352.10,109.12 349.75,107.41 352.66,107.41" fill="#00ff00" stroke="#00ff00" stroke-width="0.6" stroke-linejoin="miter"/><polygon points="372.74,104.95 373.64,107.72 376.54,107.72 374.19,109.43 375.09,112.19 372.74,110.48 370.39,112.19 371.29,109.43 368.93,107.72 371.84,107.72" fill="#00ff00" stroke="#00ff00" stroke-width="0.6" stroke-linejoin="miter"/><polygon points="391.92,105.41 392.82,108.18 395.73,108.18 393.38,109.88 394.27,112.65 391.92,110.94 389.57,112.65 390.47,109.88 388.12,108.18 391.02,108.18" fill="#00ff00" stroke="#00ff00" stroke-width="0.6" stroke-linejoin="miter"/><polygon points="411.11,105.41 412.01,108.18 414.91,108.18 412.56,109.88 413.46,112.65 411.11,110.94 408.76,112.65 409.65,109.88 407.30,108.18 410.21,108.18" fill="#00ff00" stroke="#00ff00" stroke-width="0.6" stroke-linejoin="miter"/><polyline points="430.29,106.97 449.48,106.97 468.66,97.06 487.85,102.70 507.03,109.87 526.22,116.12" fill="none" stroke="#00ff00" stroke-width="1.8" stroke-linejoin="round"/><polygon points="430.29,102.97 431.19,105.74 434.10,105.74 431.75,107.44 432.64,110.21 430.29,108.50 427.94,110.21 428.84,107.44 426.49,105.74 429.39,105.74" fill="#00ff00" stroke="#00ff00" stroke-width="0.6" stroke-linejoin="miter"/><polygon points="449.48,102.97 450.38,105.74 453.28,105.74 450.93,107.44 451.83,110.21 449.48,108.50 447.13,110.21 448.02,107.44 445.67,105.74 448.58,105.74" fill="#00ff00" stroke="#00ff00" stroke-width="0.6" stroke-linejoin="miter"/><polygon points="468.66,93.06 469.56,95.82 472.47,95.82 470.11,97.53 471.01,100.30 468.66,98.59 466.31,100.30 467.21,97.53 464.86,95.82 467.76,95.82" fill="#00ff00" stroke="#00ff00" stroke-width="0.6" stroke-linejoin="miter"/><polygon points="487.85,98.70 488.74,101.47 491.65,101.47 489.30,103.17 490.20,105.94 487.85,104.23 485.50,105.94 486.39,103.17 484.04,101.47 486.95,101.47" fill="#00ff00" stroke="#00ff00" stroke-width="0.6" stroke-linejoin="miter"/><polygon points="507.03,105.87 507.93,108.63 510.83,108.63 508.48,110.34 509.38,113.11 507.03,111.40 504.68,113.11 505.58,110.34 503.23,108.63 506.13,108.63" fill="#00ff00" stroke="#00ff00" stroke-width="0.6" stroke-linejoin="miter"/><polygon points="526.22,112.12 527.11,114.89 530.02,114.89 527.67,116.59 528.57,119.36 526.22,117.65 523.86,119.36 524.76,116.59 522.41,114.89 525.32,114.89" fill="#00ff00" stroke="#00ff00" stroke-width="0.6" stroke-linejoin="miter"/><polyline points="315.18,85.16 334.37,102.25 353.55,127.86 372.74,119.17 391.92,94.01 411.11,93.40" fill="none" stroke="#0000ff" stroke-width="1.8" stroke-linejoin="round"/><polygon points="315.18,81.16 316.08,83.93 318.99,83.93 316.64,85.64 317.54,88.40 315.18,86.69 312.83,88.40 313.73,85.64 311.38,83.93 314.29,83.93" fill="#0000ff" stroke="#0000ff" stroke-width="0.6" stroke-linejoin="miter"/><polygon points="334.37,98.25 335.27,101.01 338.17,101.01 335.82,102.72 336.72,105.48 334.37,103.77 332.02,105.48 332.92,102.72 330.57,101.01 333.47,101.01" fill="#0000ff" stroke="#0000ff" stroke-width="0.6" stroke-linejoin="miter"/><polygon points="353.55,123.86 354.45,126.63 357.36,126.63 355.01,128.34 355.90,131.10 353.55,129.39 351.20,131.10 352.10,128.34 349.75,126.63 352.66,126.63" fill="#0000ff" stroke="#0000ff" stroke-width="0.6" stroke-linejoin="miter"/><polygon points="372.74,115.17 373.64,117.94 376.54,117.94 374.19,119.64 375.09,122.41 372.74,120.70 370.39,122.41 371.29,119.64 368.93,117.94 371.84,117.94" fill="#0000ff" stroke="#0000ff" stroke-width="0.6" stroke-linejoin="miter"/><polygon points="391.92,90.01 392.82,92.77 395.73,92.77 393.38,94.48 394.27,97.25 391.92,95.54 389.57,97.25 390.47,94.48 388.12,92.77 391.02,92.77" fill="#0000ff" stroke="#0000ff" stroke-width="0.6" stroke-linejoin="miter"/><polygon points="411.11,89.40 412.01,92.16 414.91,92.16 412.56,93.87 413.46,96.64 411.11,94.93 408.76,96.64 409.65,93.87 407.30,92.16 410.21,92.16" fill="#0000ff" stroke="#0000ff" stroke-width="0.6" stroke-linejoin="miter"/><polyline points="430.29,91.27 449.48,93.25 468.66,121.31 487.85,118.41 507.03,92.79 526.22,105.60" fill="none" stroke="#0000ff" stroke-width="1.8" stroke-linejoin="round"/><polygon points="430.29,87.27 431.19,90.03 434.10,90.03 431.75,91.74 432.64,94.50 430.29,92.79 427.94,94.50 428.84,91.74 426.49,90.03 429.39,90.03" fill="#0000ff" stroke="#0000ff" stroke-width="0.6" stroke-linejoin="miter"/><polygon points="449.48,89.25 450.38,92.01 453.28,92.01 450.93,93.72 451.83,96.48 449.48,94.78 447.13,96.48 448.02,93.72 445.67,92.01 448.58,92.01" fill="#0000ff" stroke="#0000ff" stroke-width="0.6" stroke-linejoin="miter"/><polygon points="468.66,117.31 469.56,120.07 472.47,120.07 470.11,121.78 471.01,124.54 468.66,122.84 466.31,124.54 467.21,121.78 464.86,120.07 467.76,120.07" fill="#0000ff" stroke="#0000ff" stroke-width="0.6" stroke-linejoin="miter"/><polygon points="487.85,114.41 488.74,117.17 491.65,117.17 489.30,118.88 490.20,121.65 487.85,119.94 485.50,121.65 486.39,118.88 484.04,117.17 486.95,117.17" fill="#0000ff" stroke="#0000ff" stroke-width="0.6" stroke-linejoin="miter"/><polygon points="507.03,88.79 507.93,91.55 510.83,91.55 508.48,93.26 509.38,96.03 507.03,94.32 504.68,96.03 505.58,93.26 503.23,91.55 506.13,91.55" fill="#0000ff" stroke="#0000ff" stroke-width="0.6" stroke-linejoin="miter"/><polygon points="526.22,101.60 527.11,104.36 530.02,104.36 527.67,106.07 528.57,108.84 526.22,107.13 523.86,108.84 524.76,106.07 522.41,104.36 525.32,104.36" fill="#0000ff" stroke="#0000ff" stroke-width="0.6" stroke-linejoin="miter"/><polyline points="315.18,113.22 334.37,108.95 353.55,107.73 372.74,110.33 391.92,119.17 411.11,114.14" fill="none" stroke="#00ffff" stroke-width="1.8" stroke-linejoin="round"/><polygon points="315.18,109.22 316.08,111.99 318.99,111.99 316.64,113.70 317.54,116.46 315.18,114.75 312.83,116.46 313.73,113.70 311.38,111.99 314.29,111.99" fill="#00ffff" stroke="#00ffff" stroke-width="0.6" stroke-linejoin="miter"/><polygon points="334.37,104.95 335.27,107.72 338.17,107.72 335.82,109.43 336.72,112.19 334.37,110.48 332.02,112.19 332.92,109.43 330.57,107.72 333.47,107.72" fill="#00ffff" stroke="#00ffff" stroke-width="0.6" stroke-linejoin="miter"/><polygon points="353.55,103.73 354.45,106.50 357.36,106.50 355.01,108.21 355.90,110.97 353.55,109.26 351.20,110.97 352.10,108.21 349.75,106.50 352.66,106.50" fill="#00ffff" stroke="#00ffff" stroke-width="0.6" stroke-linejoin="miter"/><polygon points="372.74,106.33 373.64,109.09 376.54,109.09 374.19,110.80 375.09,113.56 372.74,111.86 370.39,113.56 371.29,110.80 368.93,109.09 371.84,109.09" fill="#00ffff" stroke="#00ffff" stroke-width="0.6" stroke-linejoin="miter"/><polygon points="391.92,115.17 392.82,117.94 395.73,117.94 393.38,119.64 394.27,122.41 391.92,120.70 389.57,122.41 390.47,119.64 388.12,117.94 391.02,117.94" fill="#00ffff" stroke="#00ffff" stroke-width="0.6" stroke-linejoin="miter"/><polygon points="411.11,110.14 412.01,112.90 414.91,112.90 412.56,114.61 413.46,117.38 411.11,115.67 408.76,117.38 409.65,114.61 407.30,112.90 410.21,112.90" fill="#00ffff" stroke="#00ffff" stroke-width="0.6" stroke-linejoin="miter"/><polyline points="430.29,106.97 449.48,106.97 468.66,109.87 487.85,109.26 507.03,115.06 526.22,118.41" fill="none" stroke="#00ffff" stroke-width="1.8" stroke-linejoin="round"/><polygon points="430.29,102.97 431.19,105.74 434.10,105.74 431.75,107.44 432.64,110.21 430.29,108.50 427.94,110.21 428.84,107.44 426.49,105.74 429.39,105.74" fill="#00ffff" stroke="#00ffff" stroke-width="0.6" stroke-linejoin="miter"/><polygon points="449.48,102.97 450.38,105.74 453.28,105.74 450.93,107.44 451.83,110.21 449.48,108.50 447.13,110.21 448.02,107.44 445.67,105.74 448.58,105.74" fill="#00ffff" stroke="#00ffff" stroke-width="0.6" stroke-linejoin="miter"/><polygon points="468.66,105.87 469.56,108.63 472.47,108.63 470.11,110.34 471.01,113.11 468.66,111.40 466.31,113.11 467.21,110.34 464.86,108.63 467.76,108.63" fill="#00ffff" stroke="#00ffff" stroke-width="0.6" stroke-linejoin="miter"/><polygon points="487.85,105.26 488.74,108.02 491.65,108.02 489.30,109.73 490.20,112.50 487.85,110.79 485.50,112.50 486.39,109.73 484.04,108.02 486.95,108.02" fill="#00ffff" stroke="#00ffff" stroke-width="0.6" stroke-linejoin="miter"/><polygon points="507.03,111.06 507.93,113.82 510.83,113.82 508.48,115.53 509.38,118.29 507.03,116.58 504.68,118.29 505.58,115.53 503.23,113.82 506.13,113.82" fill="#00ffff" stroke="#00ffff" stroke-width="0.6" stroke-linejoin="miter"/><polygon points="526.22,114.41 527.11,117.17 530.02,117.17 527.67,118.88 528.57,121.65 526.22,119.94 523.86,121.65 524.76,118.88 522.41,117.17 525.32,117.17" fill="#00ffff" stroke="#00ffff" stroke-width="0.6" stroke-linejoin="miter"/><polyline points="315.18,85.16 334.37,78.91 353.55,75.10 372.74,78.45 391.92,78.91 411.11,82.72" fill="none" stroke="#ff00ff" stroke-width="1.8" stroke-linejoin="round"/><polygon points="315.18,81.16 316.08,83.93 318.99,83.93 316.64,85.64 317.54,88.40 315.18,86.69 312.83,88.40 313.73,85.64 311.38,83.93 314.29,83.93" fill="#ff00ff" stroke="#ff00ff" stroke-width="0.6" stroke-linejoin="miter"/><polygon points="334.37,74.91 335.27,77.68 338.17,77.68 335.82,79.38 336.72,82.15 334.37,80.44 332.02,82.15 332.92,79.38 330.57,77.68 333.47,77.68" fill="#ff00ff" stroke="#ff00ff" stroke-width="0.6" stroke-linejoin="miter"/><polygon points="353.55,71.10 354.45,73.86 357.36,73.86 355.01,75.57 355.90,78.34 353.55,76.63 351.20,78.34 352.10,75.57 349.75,73.86 352.66,73.86" fill="#ff00ff" stroke="#ff00ff" stroke-width="0.6" stroke-linejoin="miter"/><polygon points="372.74,74.45 373.64,77.22 376.54,77.22 374.19,78.93 375.09,81.69 372.74,79.98 370.39,81.69 371.29,78.93 368.93,77.22 371.84,77.22" fill="#ff00ff" stroke="#ff00ff" stroke-width="0.6" stroke-linejoin="miter"/><polygon points="391.92,74.91 392.82,77.68 395.73,77.68 393.38,79.38 394.27,82.15 391.92,80.44 389.57,82.15 390.47,79.38 388.12,77.68 391.02,77.68" fill="#ff00ff" stroke="#ff00ff" stroke-width="0.6" stroke-linejoin="miter"/><polygon points="411.11,78.72 412.01,81.49 414.91,81.49 412.56,83.20 413.46,85.96 411.11,84.25 408.76,85.96 409.65,83.20 407.30,81.49 410.21,81.49" fill="#ff00ff" stroke="#ff00ff" stroke-width="0.6" stroke-linejoin="miter"/><polyline points="430.29,84.86 449.48,77.69 468.66,67.17 487.85,71.44 507.03,76.17 526.22,82.72" fill="none" stroke="#ff00ff" stroke-width="1.8" stroke-linejoin="round"/><polygon points="430.29,80.86 431.19,83.62 434.10,83.62 431.75,85.33 432.64,88.10 430.29,86.39 427.94,88.10 428.84,85.33 426.49,83.62 429.39,83.62" fill="#ff00ff" stroke="#ff00ff" stroke-width="0.6" stroke-linejoin="miter"/><polygon points="449.48,73.69 450.38,76.46 453.28,76.46 450.93,78.16 451.83,80.93 449.48,79.22 447.13,80.93 448.02,78.16 445.67,76.46 448.58,76.46" fill="#ff00ff" stroke="#ff00ff" stroke-width="0.6" stroke-linejoin="miter"/><polygon points="468.66,63.17 469.56,65.93 472.47,65.93 470.11,67.64 471.01,70.41 468.66,68.70 466.31,70.41 467.21,67.64 464.86,65.93 467.76,65.93" fill="#ff00ff" stroke="#ff00ff" stroke-width="0.6" stroke-linejoin="miter"/><polygon points="487.85,67.44 488.74,70.20 491.65,70.20 489.30,71.91 490.20,74.68 487.85,72.97 485.50,74.68 486.39,71.91 484.04,70.20 486.95,70.20" fill="#ff00ff" stroke="#ff00ff" stroke-width="0.6" stroke-linejoin="miter"/><polygon points="507.03,72.17 507.93,74.93 510.83,74.93 508.48,76.64 509.38,79.40 507.03,77.70 504.68,79.40 505.58,76.64 503.23,74.93 506.13,74.93" fill="#ff00ff" stroke="#ff00ff" stroke-width="0.6" stroke-linejoin="miter"/><polygon points="526.22,78.72 527.11,81.49 530.02,81.49 527.67,83.20 528.57,85.96 526.22,84.25 523.86,85.96 524.76,83.20 522.41,81.49 525.32,81.49" fill="#ff00ff" stroke="#ff00ff" stroke-width="0.6" stroke-linejoin="miter"/><polyline points="315.18,90.66 334.37,98.43 353.55,104.69 372.74,98.43 391.92,89.74 411.11,89.74" fill="none" stroke="#ffff00" stroke-width="1.8" stroke-linejoin="round"/><polygon points="315.18,86.66 316.08,89.42 318.99,89.42 316.64,91.13 317.54,93.89 315.18,92.18 312.83,93.89 313.73,91.13 311.38,89.42 314.29,89.42" fill="#ffff00" stroke="#ffff00" stroke-width="0.6" stroke-linejoin="miter"/><polygon points="334.37,94.43 335.27,97.20 338.17,97.20 335.82,98.90 336.72,101.67 334.37,99.96 332.02,101.67 332.92,98.90 330.57,97.20 333.47,97.20" fill="#ffff00" stroke="#ffff00" stroke-width="0.6" stroke-linejoin="miter"/><polygon points="353.55,100.69 354.45,103.45 357.36,103.45 355.01,105.16 355.90,107.92 353.55,106.21 351.20,107.92 352.10,105.16 349.75,103.45 352.66,103.45" fill="#ffff00" stroke="#ffff00" stroke-width="0.6" stroke-linejoin="miter"/><polygon points="372.74,94.43 373.64,97.20 376.54,97.20 374.19,98.90 375.09,101.67 372.74,99.96 370.39,101.67 371.29,98.90 368.93,97.20 371.84,97.20" fill="#ffff00" stroke="#ffff00" stroke-width="0.6" stroke-linejoin="miter"/><polygon points="391.92,85.74 392.82,88.50 395.73,88.50 393.38,90.21 394.27,92.98 391.92,91.27 389.57,92.98 390.47,90.21 388.12,88.50 391.02,88.50" fill="#ffff00" stroke="#ffff00" stroke-width="0.6" stroke-linejoin="miter"/><polygon points="411.11,85.74 412.01,88.50 414.91,88.50 412.56,90.21 413.46,92.98 411.11,91.27 408.76,92.98 409.65,90.21 407.30,88.50 410.21,88.50" fill="#ffff00" stroke="#ffff00" stroke-width="0.6" stroke-linejoin="miter"/><polyline points="430.29,92.18 449.48,102.70 468.66,119.78 487.85,111.24 507.03,93.25 526.22,74.80" fill="none" stroke="#ffff00" stroke-width="1.8" stroke-linejoin="round"/><polygon points="430.29,88.18 431.19,90.94 434.10,90.94 431.75,92.65 432.64,95.42 430.29,93.71 427.94,95.42 428.84,92.65 426.49,90.94 429.39,90.94" fill="#ffff00" stroke="#ffff00" stroke-width="0.6" stroke-linejoin="miter"/><polygon points="449.48,98.70 450.38,101.47 453.28,101.47 450.93,103.17 451.83,105.94 449.48,104.23 447.13,105.94 448.02,103.17 445.67,101.47 448.58,101.47" fill="#ffff00" stroke="#ffff00" stroke-width="0.6" stroke-linejoin="miter"/><polygon points="468.66,115.78 469.56,118.55 472.47,118.55 470.11,120.25 471.01,123.02 468.66,121.31 466.31,123.02 467.21,120.25 464.86,118.55 467.76,118.55" fill="#ffff00" stroke="#ffff00" stroke-width="0.6" stroke-linejoin="miter"/><polygon points="487.85,107.24 488.74,110.01 491.65,110.01 489.30,111.71 490.20,114.48 487.85,112.77 485.50,114.48 486.39,111.71 484.04,110.01 486.95,110.01" fill="#ffff00" stroke="#ffff00" stroke-width="0.6" stroke-linejoin="miter"/><polygon points="507.03,89.25 507.93,92.01 510.83,92.01 508.48,93.72 509.38,96.48 507.03,94.78 504.68,96.48 505.58,93.72 503.23,92.01 506.13,92.01" fill="#ffff00" stroke="#ffff00" stroke-width="0.6" stroke-linejoin="miter"/><polygon points="526.22,70.80 527.11,73.56 530.02,73.56 527.67,75.27 528.57,78.03 526.22,76.32 523.86,78.03 524.76,75.27 522.41,73.56 525.32,73.56" fill="#ffff00" stroke="#ffff00" stroke-width="0.6" stroke-linejoin="miter"/><polyline points="315.18,109.56 334.37,108.95 353.55,108.34 372.74,110.33 391.92,105.30 411.11,99.50" fill="none" stroke="#000000" stroke-width="1.8" stroke-linejoin="round"/><polygon points="315.18,105.56 316.08,108.33 318.99,108.33 316.64,110.04 317.54,112.80 315.18,111.09 312.83,112.80 313.73,110.04 311.38,108.33 314.29,108.33" fill="#000000" stroke="#000000" stroke-width="0.6" stroke-linejoin="miter"/><polygon points="334.37,104.95 335.27,107.72 338.17,107.72 335.82,109.43 336.72,112.19 334.37,110.48 332.02,112.19 332.92,109.43 330.57,107.72 333.47,107.72" fill="#000000" stroke="#000000" stroke-width="0.6" stroke-linejoin="miter"/><polygon points="353.55,104.34 354.45,107.11 357.36,107.11 355.01,108.82 355.90,111.58 353.55,109.87 351.20,111.58 352.10,108.82 349.75,107.11 352.66,107.11" fill="#000000" stroke="#000000" stroke-width="0.6" stroke-linejoin="miter"/><polygon points="372.74,106.33 373.64,109.09 376.54,109.09 374.19,110.80 375.09,113.56 372.74,111.86 370.39,113.56 371.29,110.80 368.93,109.09 371.84,109.09" fill="#000000" stroke="#000000" stroke-width="0.6" stroke-linejoin="miter"/><polygon points="391.92,101.30 392.82,104.06 395.73,104.06 393.38,105.77 394.27,108.53 391.92,106.82 389.57,108.53 390.47,105.77 388.12,104.06 391.02,104.06" fill="#000000" stroke="#000000" stroke-width="0.6" stroke-linejoin="miter"/><polygon points="411.11,95.50 412.01,98.26 414.91,98.26 412.56,99.97 413.46,102.74 411.11,101.03 408.76,102.74 409.65,99.97 407.30,98.26 410.21,98.26" fill="#000000" stroke="#000000" stroke-width="0.6" stroke-linejoin="miter"/><polyline points="430.29,109.26 449.48,109.26 468.66,94.16 487.85,99.96 507.03,106.97 526.22,116.12" fill="none" stroke="#000000" stroke-width="1.8" stroke-linejoin="round"/><polygon points="430.29,105.26 431.19,108.02 434.10,108.02 431.75,109.73 432.64,112.50 430.29,110.79 427.94,112.50 428.84,109.73 426.49,108.02 429.39,108.02" fill="#000000" stroke="#000000" stroke-width="0.6" stroke-linejoin="miter"/><polygon points="449.48,105.26 450.38,108.02 453.28,108.02 450.93,109.73 451.83,112.50 449.48,110.79 447.13,112.50 448.02,109.73 445.67,108.02 448.58,108.02" fill="#000000" stroke="#000000" stroke-width="0.6" stroke-linejoin="miter"/><polygon points="468.66,90.16 469.56,92.93 472.47,92.93 470.11,94.63 471.01,97.40 468.66,95.69 466.31,97.40 467.21,94.63 464.86,92.93 467.76,92.93" fill="#000000" stroke="#000000" stroke-width="0.6" stroke-linejoin="miter"/><polygon points="487.85,95.96 488.74,98.72 491.65,98.72 489.30,100.43 490.20,103.19 487.85,101.49 485.50,103.19 486.39,100.43 484.04,98.72 486.95,98.72" fill="#000000" stroke="#000000" stroke-width="0.6" stroke-linejoin="miter"/><polygon points="507.03,102.97 507.93,105.74 510.83,105.74 508.48,107.44 509.38,110.21 507.03,108.50 504.68,110.21 505.58,107.44 503.23,105.74 506.13,105.74" fill="#000000" stroke="#000000" stroke-width="0.6" stroke-linejoin="miter"/><polygon points="526.22,112.12 527.11,114.89 530.02,114.89 527.67,116.59 528.57,119.36 526.22,117.65 523.86,119.36 524.76,116.59 522.41,114.89 525.32,114.89" fill="#000000" stroke="#000000" stroke-width="0.6" stroke-linejoin="miter"/></g><g><rect x="22.6" y="146.6" width="249.00" height="121.70000000000002" fill="none" stroke="#8c8c8c" stroke-width="1.1"/><line x1="41.75" y1="268.3" x2="41.75" y2="265.7" stroke="#8c8c8c" stroke-width="0.9"/><line x1="41.75" y1="146.6" x2="41.75" y2="149.2" stroke="#8c8c8c" stroke-width="0.9"/><line x1="60.91" y1="268.3" x2="60.91" y2="265.7" stroke="#8c8c8c" stroke-width="0.9"/><line x1="60.91" y1="146.6" x2="60.91" y2="149.2" stroke="#8c8c8c" stroke-width="0.9"/><line x1="80.06" y1="268.3" x2="80.06" y2="265.7" stroke="#8c8c8c" stroke-width="0.9"/><line x1="80.06" y1="146.6" x2="80.06" y2="149.2" stroke="#8c8c8c" stroke-width="0.9"/><line x1="99.22" y1="268.3" x2="99.22" y2="265.7" stroke="#8c8c8c" stroke-width="0.9"/><line x1="99.22" y1="146.6" x2="99.22" y2="149.2" stroke="#8c8c8c" stroke-width="0.9"/><line x1="118.37" y1="268.3" x2="118.37" y2="265.7" stroke="#8c8c8c" stroke-width="0.9"/><line x1="118.37" y1="146.6" x2="118.37" y2="149.2" stroke="#8c8c8c" stroke-width="0.9"/><line x1="137.52" y1="268.3" x2="137.52" y2="265.7" stroke="#8c8c8c" stroke-width="0.9"/><line x1="137.52" y1="146.6" x2="137.52" y2="149.2" stroke="#8c8c8c" stroke-width="0.9"/><line x1="156.68" y1="268.3" x2="156.68" y2="265.7" stroke="#8c8c8c" stroke-width="0.9"/><line x1="156.68" y1="146.6" x2="156.68" y2="149.2" stroke="#8c8c8c" stroke-width="0.9"/><line x1="175.83" y1="268.3" x2="175.83" y2="265.7" stroke="#8c8c8c" stroke-width="0.9"/><line x1="175.83" y1="146.6" x2="175.83" y2="149.2" stroke="#8c8c8c" stroke-width="0.9"/><line x1="194.98" y1="268.3" x2="194.98" y2="265.7" stroke="#8c8c8c" stroke-width="0.9"/><line x1="194.98" y1="146.6" x2="194.98" y2="149.2" stroke="#8c8c8c" stroke-width="0.9"/><line x1="214.14" y1="268.3" x2="214.14" y2="265.7" stroke="#8c8c8c" stroke-width="0.9"/><line x1="214.14" y1="146.6" x2="214.14" y2="149.2" stroke="#8c8c8c" stroke-width="0.9"/><line x1="233.29" y1="268.3" x2="233.29" y2="265.7" stroke="#8c8c8c" stroke-width="0.9"/><line x1="233.29" y1="146.6" x2="233.29" y2="149.2" stroke="#8c8c8c" stroke-width="0.9"/><line x1="252.45" y1="268.3" x2="252.45" y2="265.7" stroke="#8c8c8c" stroke-width="0.9"/><line x1="252.45" y1="146.6" x2="252.45" y2="149.2" stroke="#8c8c8c" stroke-width="0.9"/><line x1="22.6" y1="268.30" x2="25.200000000000003" y2="268.30" stroke="#8c8c8c" stroke-width="0.9"/><line x1="271.6" y1="268.30" x2="269.0" y2="268.30" stroke="#8c8c8c" stroke-width="0.9"/><line x1="22.6" y1="253.09" x2="25.200000000000003" y2="253.09" stroke="#8c8c8c" stroke-width="0.9"/><line x1="271.6" y1="253.09" x2="269.0" y2="253.09" stroke="#8c8c8c" stroke-width="0.9"/><line x1="22.6" y1="237.88" x2="25.200000000000003" y2="237.88" stroke="#8c8c8c" stroke-width="0.9"/><line x1="271.6" y1="237.88" x2="269.0" y2="237.88" stroke="#8c8c8c" stroke-width="0.9"/><line x1="22.6" y1="222.66" x2="25.200000000000003" y2="222.66" stroke="#8c8c8c" stroke-width="0.9"/><line x1="271.6" y1="222.66" x2="269.0" y2="222.66" stroke="#8c8c8c" stroke-width="0.9"/><line x1="22.6" y1="207.45" x2="25.200000000000003" y2="207.45" stroke="#8c8c8c" stroke-width="0.9"/><line x1="271.6" y1="207.45" x2="269.0" y2="207.45" stroke="#8c8c8c" stroke-width="0.9"/><line x1="22.6" y1="192.24" x2="25.200000000000003" y2="192.24" stroke="#8c8c8c" stroke-width="0.9"/><line x1="271.6" y1="192.24" x2="269.0" y2="192.24" stroke="#8c8c8c" stroke-width="0.9"/><line x1="22.6" y1="177.03" x2="25.200000000000003" y2="177.03" stroke="#8c8c8c" stroke-width="0.9"/><line x1="271.6" y1="177.03" x2="269.0" y2="177.03" stroke="#8c8c8c" stroke-width="0.9"/><line x1="22.6" y1="161.81" x2="25.200000000000003" y2="161.81" stroke="#8c8c8c" stroke-width="0.9"/><line x1="271.6" y1="161.81" x2="269.0" y2="161.81" stroke="#8c8c8c" stroke-width="0.9"/><line x1="22.6" y1="146.60" x2="25.200000000000003" y2="146.60" stroke="#8c8c8c" stroke-width="0.9"/><line x1="271.6" y1="146.60" x2="269.0" y2="146.60" stroke="#8c8c8c" stroke-width="0.9"/><text x="19.20" y="271.20" text-anchor="end" class="tl">−2</text><text x="19.20" y="255.99" text-anchor="end" class="tl">−1</text><text x="19.20" y="240.78" text-anchor="end" class="tl">0</text><text x="19.20" y="225.56" text-anchor="end" class="tl">1</text><text x="19.20" y="210.35" text-anchor="end" class="tl">2</text><text x="19.20" y="195.14" text-anchor="end" class="tl">3</text><text x="19.20" y="179.93" text-anchor="end" class="tl">4</text><text x="19.20" y="164.71" text-anchor="end" class="tl">5</text><text x="19.20" y="149.50" text-anchor="end" class="tl">6</text><text x="41.75" y="277.20" text-anchor="middle" class="tl">N-H</text><text x="60.91" y="277.20" text-anchor="middle" class="tl">N-M</text><text x="80.06" y="277.20" text-anchor="middle" class="tl">N-L</text><text x="99.22" y="277.20" text-anchor="middle" class="tl">S-L</text><text x="118.37" y="277.20" text-anchor="middle" class="tl">S-M</text><text x="137.52" y="277.20" text-anchor="middle" class="tl">S-H</text><text x="156.68" y="277.20" text-anchor="middle" class="tl">N-H</text><text x="175.83" y="277.20" text-anchor="middle" class="tl">N-M</text><text x="194.98" y="277.20" text-anchor="middle" class="tl">N-L</text><text x="214.14" y="277.20" text-anchor="middle" class="tl">S-L</text><text x="233.29" y="277.20" text-anchor="middle" class="tl">S-M</text><text x="252.45" y="277.20" text-anchor="middle" class="tl">S-H</text><text transform="translate(8.90,207.95) rotate(-90)" text-anchor="middle" class="yl">RMS/TECU</text><line x1="147.10" y1="146.6" x2="147.10" y2="268.3" stroke="#ff6666" stroke-width="0.9" stroke-dasharray="4,2" stroke-dashoffset="4"/><text transform="translate(32.20,266.10) scale(1,1.13)" class="yr">2020</text><text transform="translate(156.40,266.10) scale(1,1.13)" class="yr">2022</text><polyline points="41.75,222.97 60.91,221.14 80.06,217.34 99.22,218.10 118.37,220.38 137.52,221.90" fill="none" stroke="#ff0000" stroke-width="1.8" stroke-linejoin="round"/><polygon points="41.75,218.97 42.65,221.73 45.56,221.73 43.21,223.44 44.10,226.20 41.75,224.49 39.40,226.20 40.30,223.44 37.95,221.73 40.86,221.73" fill="#ff0000" stroke="#ff0000" stroke-width="0.6" stroke-linejoin="miter"/><polygon points="60.91,217.14 61.81,219.91 64.71,219.91 62.36,221.61 63.26,224.38 60.91,222.67 58.56,224.38 59.45,221.61 57.10,219.91 60.01,219.91" fill="#ff0000" stroke="#ff0000" stroke-width="0.6" stroke-linejoin="miter"/><polygon points="80.06,213.34 80.96,216.10 83.87,216.10 81.51,217.81 82.41,220.57 80.06,218.87 77.71,220.57 78.61,217.81 76.26,216.10 79.16,216.10" fill="#ff0000" stroke="#ff0000" stroke-width="0.6" stroke-linejoin="miter"/><polygon points="99.22,214.10 100.11,216.86 103.02,216.86 100.67,218.57 101.57,221.33 99.22,219.63 96.86,221.33 97.76,218.57 95.41,216.86 98.32,216.86" fill="#ff0000" stroke="#ff0000" stroke-width="0.6" stroke-linejoin="miter"/><polygon points="118.37,216.38 119.27,219.14 122.17,219.14 119.82,220.85 120.72,223.62 118.37,221.91 116.02,223.62 116.92,220.85 114.57,219.14 117.47,219.14" fill="#ff0000" stroke="#ff0000" stroke-width="0.6" stroke-linejoin="miter"/><polygon points="137.52,217.90 138.42,220.67 141.33,220.67 138.98,222.37 139.87,225.14 137.52,223.43 135.17,225.14 136.07,222.37 133.72,220.67 136.62,220.67" fill="#ff0000" stroke="#ff0000" stroke-width="0.6" stroke-linejoin="miter"/><polyline points="156.68,215.82 175.83,211.25 194.98,193.76 214.14,201.37 233.29,207.45 252.45,205.93" fill="none" stroke="#ff0000" stroke-width="1.8" stroke-linejoin="round"/><polygon points="156.68,211.82 157.58,214.58 160.48,214.58 158.13,216.29 159.03,219.05 156.68,217.34 154.33,219.05 155.22,216.29 152.87,214.58 155.78,214.58" fill="#ff0000" stroke="#ff0000" stroke-width="0.6" stroke-linejoin="miter"/><polygon points="175.83,207.25 176.73,210.02 179.63,210.02 177.28,211.73 178.18,214.49 175.83,212.78 173.48,214.49 174.38,211.73 172.03,210.02 174.93,210.02" fill="#ff0000" stroke="#ff0000" stroke-width="0.6" stroke-linejoin="miter"/><polygon points="194.98,189.76 195.88,192.52 198.79,192.52 196.44,194.23 197.34,196.99 194.98,195.29 192.63,196.99 193.53,194.23 191.18,192.52 194.09,192.52" fill="#ff0000" stroke="#ff0000" stroke-width="0.6" stroke-linejoin="miter"/><polygon points="214.14,197.37 215.04,200.13 217.94,200.13 215.59,201.84 216.49,204.60 214.14,202.89 211.79,204.60 212.69,201.84 210.33,200.13 213.24,200.13" fill="#ff0000" stroke="#ff0000" stroke-width="0.6" stroke-linejoin="miter"/><polygon points="233.29,203.45 234.19,206.21 237.10,206.21 234.75,207.92 235.64,210.69 233.29,208.98 230.94,210.69 231.84,207.92 229.49,206.21 232.39,206.21" fill="#ff0000" stroke="#ff0000" stroke-width="0.6" stroke-linejoin="miter"/><polygon points="252.45,201.93 253.34,204.69 256.25,204.69 253.90,206.40 254.80,209.16 252.45,207.46 250.10,209.16 250.99,206.40 248.64,204.69 251.55,204.69" fill="#ff0000" stroke="#ff0000" stroke-width="0.6" stroke-linejoin="miter"/><polyline points="41.75,226.47 60.91,225.40 80.06,224.34 99.22,223.27 118.37,224.79 137.52,225.40" fill="none" stroke="#00ff00" stroke-width="1.8" stroke-linejoin="round"/><polygon points="41.75,222.47 42.65,225.23 45.56,225.23 43.21,226.94 44.10,229.70 41.75,227.99 39.40,229.70 40.30,226.94 37.95,225.23 40.86,225.23" fill="#00ff00" stroke="#00ff00" stroke-width="0.6" stroke-linejoin="miter"/><polygon points="60.91,221.40 61.81,224.16 64.71,224.16 62.36,225.87 63.26,228.64 60.91,226.93 58.56,228.64 59.45,225.87 57.10,224.16 60.01,224.16" fill="#00ff00" stroke="#00ff00" stroke-width="0.6" stroke-linejoin="miter"/><polygon points="80.06,220.34 80.96,223.10 83.87,223.10 81.51,224.81 82.41,227.57 80.06,225.86 77.71,227.57 78.61,224.81 76.26,223.10 79.16,223.10" fill="#00ff00" stroke="#00ff00" stroke-width="0.6" stroke-linejoin="miter"/><polygon points="99.22,219.27 100.11,222.03 103.02,222.03 100.67,223.74 101.57,226.51 99.22,224.80 96.86,226.51 97.76,223.74 95.41,222.03 98.32,222.03" fill="#00ff00" stroke="#00ff00" stroke-width="0.6" stroke-linejoin="miter"/><polygon points="118.37,220.79 119.27,223.56 122.17,223.56 119.82,225.26 120.72,228.03 118.37,226.32 116.02,228.03 116.92,225.26 114.57,223.56 117.47,223.56" fill="#00ff00" stroke="#00ff00" stroke-width="0.6" stroke-linejoin="miter"/><polygon points="137.52,221.40 138.42,224.16 141.33,224.16 138.98,225.87 139.87,228.64 137.52,226.93 135.17,228.64 136.07,225.87 133.72,224.16 136.62,224.16" fill="#00ff00" stroke="#00ff00" stroke-width="0.6" stroke-linejoin="miter"/><polyline points="156.68,221.45 175.83,219.92 194.98,213.99 214.14,212.47 233.29,216.27 252.45,212.47" fill="none" stroke="#00ff00" stroke-width="1.8" stroke-linejoin="round"/><polygon points="156.68,217.45 157.58,220.21 160.48,220.21 158.13,221.92 159.03,224.68 156.68,222.97 154.33,224.68 155.22,221.92 152.87,220.21 155.78,220.21" fill="#00ff00" stroke="#00ff00" stroke-width="0.6" stroke-linejoin="miter"/><polygon points="175.83,215.92 176.73,218.69 179.63,218.69 177.28,220.40 178.18,223.16 175.83,221.45 173.48,223.16 174.38,220.40 172.03,218.69 174.93,218.69" fill="#00ff00" stroke="#00ff00" stroke-width="0.6" stroke-linejoin="miter"/><polygon points="194.98,209.99 195.88,212.76 198.79,212.76 196.44,214.46 197.34,217.23 194.98,215.52 192.63,217.23 193.53,214.46 191.18,212.76 194.09,212.76" fill="#00ff00" stroke="#00ff00" stroke-width="0.6" stroke-linejoin="miter"/><polygon points="214.14,208.47 215.04,211.23 217.94,211.23 215.59,212.94 216.49,215.71 214.14,214.00 211.79,215.71 212.69,212.94 210.33,211.23 213.24,211.23" fill="#00ff00" stroke="#00ff00" stroke-width="0.6" stroke-linejoin="miter"/><polygon points="233.29,212.27 234.19,215.04 237.10,215.04 234.75,216.75 235.64,219.51 233.29,217.80 230.94,219.51 231.84,216.75 229.49,215.04 232.39,215.04" fill="#00ff00" stroke="#00ff00" stroke-width="0.6" stroke-linejoin="miter"/><polygon points="252.45,208.47 253.34,211.23 256.25,211.23 253.90,212.94 254.80,215.71 252.45,214.00 250.10,215.71 250.99,212.94 248.64,211.23 251.55,211.23" fill="#00ff00" stroke="#00ff00" stroke-width="0.6" stroke-linejoin="miter"/><polyline points="41.75,214.90 60.91,213.23 80.06,195.58 99.22,201.37 118.37,214.90 137.52,219.47" fill="none" stroke="#0000ff" stroke-width="1.8" stroke-linejoin="round"/><polygon points="41.75,210.90 42.65,213.67 45.56,213.67 43.21,215.38 44.10,218.14 41.75,216.43 39.40,218.14 40.30,215.38 37.95,213.67 40.86,213.67" fill="#0000ff" stroke="#0000ff" stroke-width="0.6" stroke-linejoin="miter"/><polygon points="60.91,209.23 61.81,211.99 64.71,211.99 62.36,213.70 63.26,216.47 60.91,214.76 58.56,216.47 59.45,213.70 57.10,211.99 60.01,211.99" fill="#0000ff" stroke="#0000ff" stroke-width="0.6" stroke-linejoin="miter"/><polygon points="80.06,191.58 80.96,194.35 83.87,194.35 81.51,196.06 82.41,198.82 80.06,197.11 77.71,198.82 78.61,196.06 76.26,194.35 79.16,194.35" fill="#0000ff" stroke="#0000ff" stroke-width="0.6" stroke-linejoin="miter"/><polygon points="99.22,197.37 100.11,200.13 103.02,200.13 100.67,201.84 101.57,204.60 99.22,202.89 96.86,204.60 97.76,201.84 95.41,200.13 98.32,200.13" fill="#0000ff" stroke="#0000ff" stroke-width="0.6" stroke-linejoin="miter"/><polygon points="118.37,210.90 119.27,213.67 122.17,213.67 119.82,215.38 120.72,218.14 118.37,216.43 116.02,218.14 116.92,215.38 114.57,213.67 117.47,213.67" fill="#0000ff" stroke="#0000ff" stroke-width="0.6" stroke-linejoin="miter"/><polygon points="137.52,215.47 138.42,218.23 141.33,218.23 138.98,219.94 139.87,222.70 137.52,221.00 135.17,222.70 136.07,219.94 133.72,218.23 136.62,218.23" fill="#0000ff" stroke="#0000ff" stroke-width="0.6" stroke-linejoin="miter"/><polyline points="156.68,210.34 175.83,200.30 194.98,160.60 214.14,161.20 233.29,190.41 252.45,195.13" fill="none" stroke="#0000ff" stroke-width="1.8" stroke-linejoin="round"/><polygon points="156.68,206.34 157.58,209.10 160.48,209.10 158.13,210.81 159.03,213.58 156.68,211.87 154.33,213.58 155.22,210.81 152.87,209.10 155.78,209.10" fill="#0000ff" stroke="#0000ff" stroke-width="0.6" stroke-linejoin="miter"/><polygon points="175.83,196.30 176.73,199.06 179.63,199.06 177.28,200.77 178.18,203.54 175.83,201.83 173.48,203.54 174.38,200.77 172.03,199.06 174.93,199.06" fill="#0000ff" stroke="#0000ff" stroke-width="0.6" stroke-linejoin="miter"/><polygon points="194.98,156.60 195.88,159.36 198.79,159.36 196.44,161.07 197.34,163.83 194.98,162.12 192.63,163.83 193.53,161.07 191.18,159.36 194.09,159.36" fill="#0000ff" stroke="#0000ff" stroke-width="0.6" stroke-linejoin="miter"/><polygon points="214.14,157.20 215.04,159.97 217.94,159.97 215.59,161.68 216.49,164.44 214.14,162.73 211.79,164.44 212.69,161.68 210.33,159.97 213.24,159.97" fill="#0000ff" stroke="#0000ff" stroke-width="0.6" stroke-linejoin="miter"/><polygon points="233.29,186.41 234.19,189.18 237.10,189.18 234.75,190.88 235.64,193.65 233.29,191.94 230.94,193.65 231.84,190.88 229.49,189.18 232.39,189.18" fill="#0000ff" stroke="#0000ff" stroke-width="0.6" stroke-linejoin="miter"/><polygon points="252.45,191.13 253.34,193.89 256.25,193.89 253.90,195.60 254.80,198.36 252.45,196.66 250.10,198.36 250.99,195.60 248.64,193.89 251.55,193.89" fill="#0000ff" stroke="#0000ff" stroke-width="0.6" stroke-linejoin="miter"/><polyline points="41.75,222.66 60.91,221.14 80.06,218.10 99.22,216.58 118.37,215.06 137.52,219.62" fill="none" stroke="#00ffff" stroke-width="1.8" stroke-linejoin="round"/><polygon points="41.75,218.66 42.65,221.43 45.56,221.43 43.21,223.13 44.10,225.90 41.75,224.19 39.40,225.90 40.30,223.13 37.95,221.43 40.86,221.43" fill="#00ffff" stroke="#00ffff" stroke-width="0.6" stroke-linejoin="miter"/><polygon points="60.91,217.14 61.81,219.91 64.71,219.91 62.36,221.61 63.26,224.38 60.91,222.67 58.56,224.38 59.45,221.61 57.10,219.91 60.01,219.91" fill="#00ffff" stroke="#00ffff" stroke-width="0.6" stroke-linejoin="miter"/><polygon points="80.06,214.10 80.96,216.86 83.87,216.86 81.51,218.57 82.41,221.33 80.06,219.63 77.71,221.33 78.61,218.57 76.26,216.86 79.16,216.86" fill="#00ffff" stroke="#00ffff" stroke-width="0.6" stroke-linejoin="miter"/><polygon points="99.22,212.58 100.11,215.34 103.02,215.34 100.67,217.05 101.57,219.81 99.22,218.11 96.86,219.81 97.76,217.05 95.41,215.34 98.32,215.34" fill="#00ffff" stroke="#00ffff" stroke-width="0.6" stroke-linejoin="miter"/><polygon points="118.37,211.06 119.27,213.82 122.17,213.82 119.82,215.53 120.72,218.29 118.37,216.58 116.02,218.29 116.92,215.53 114.57,213.82 117.47,213.82" fill="#00ffff" stroke="#00ffff" stroke-width="0.6" stroke-linejoin="miter"/><polygon points="137.52,215.62 138.42,218.38 141.33,218.38 138.98,220.09 139.87,222.86 137.52,221.15 135.17,222.86 136.07,220.09 133.72,218.38 136.62,218.38" fill="#00ffff" stroke="#00ffff" stroke-width="0.6" stroke-linejoin="miter"/><polyline points="156.68,218.10 175.83,213.53 194.98,198.32 214.14,199.84 233.29,207.45 252.45,208.97" fill="none" stroke="#00ffff" stroke-width="1.8" stroke-linejoin="round"/><polygon points="156.68,214.10 157.58,216.86 160.48,216.86 158.13,218.57 159.03,221.33 156.68,219.63 154.33,221.33 155.22,218.57 152.87,216.86 155.78,216.86" fill="#00ffff" stroke="#00ffff" stroke-width="0.6" stroke-linejoin="miter"/><polygon points="175.83,209.53 176.73,212.30 179.63,212.30 177.28,214.01 178.18,216.77 175.83,215.06 173.48,216.77 174.38,214.01 172.03,212.30 174.93,212.30" fill="#00ffff" stroke="#00ffff" stroke-width="0.6" stroke-linejoin="miter"/><polygon points="194.98,194.32 195.88,197.09 198.79,197.09 196.44,198.79 197.34,201.56 194.98,199.85 192.63,201.56 193.53,198.79 191.18,197.09 194.09,197.09" fill="#00ffff" stroke="#00ffff" stroke-width="0.6" stroke-linejoin="miter"/><polygon points="214.14,195.84 215.04,198.61 217.94,198.61 215.59,200.32 216.49,203.08 214.14,201.37 211.79,203.08 212.69,200.32 210.33,198.61 213.24,198.61" fill="#00ffff" stroke="#00ffff" stroke-width="0.6" stroke-linejoin="miter"/><polygon points="233.29,203.45 234.19,206.21 237.10,206.21 234.75,207.92 235.64,210.69 233.29,208.98 230.94,210.69 231.84,207.92 229.49,206.21 232.39,206.21" fill="#00ffff" stroke="#00ffff" stroke-width="0.6" stroke-linejoin="miter"/><polygon points="252.45,204.97 253.34,207.74 256.25,207.74 253.90,209.44 254.80,212.21 252.45,210.50 250.10,212.21 250.99,209.44 248.64,207.74 251.55,207.74" fill="#00ffff" stroke="#00ffff" stroke-width="0.6" stroke-linejoin="miter"/><polyline points="41.75,222.21 60.91,215.97 80.06,207.60 99.22,211.86 118.37,213.99 137.52,219.47" fill="none" stroke="#ff00ff" stroke-width="1.8" stroke-linejoin="round"/><polygon points="41.75,218.21 42.65,220.97 45.56,220.97 43.21,222.68 44.10,225.44 41.75,223.73 39.40,225.44 40.30,222.68 37.95,220.97 40.86,220.97" fill="#ff00ff" stroke="#ff00ff" stroke-width="0.6" stroke-linejoin="miter"/><polygon points="60.91,211.97 61.81,214.73 64.71,214.73 62.36,216.44 63.26,219.21 60.91,217.50 58.56,219.21 59.45,216.44 57.10,214.73 60.01,214.73" fill="#ff00ff" stroke="#ff00ff" stroke-width="0.6" stroke-linejoin="miter"/><polygon points="80.06,203.60 80.96,206.37 83.87,206.37 81.51,208.07 82.41,210.84 80.06,209.13 77.71,210.84 78.61,208.07 76.26,206.37 79.16,206.37" fill="#ff00ff" stroke="#ff00ff" stroke-width="0.6" stroke-linejoin="miter"/><polygon points="99.22,207.86 100.11,210.63 103.02,210.63 100.67,212.33 101.57,215.10 99.22,213.39 96.86,215.10 97.76,212.33 95.41,210.63 98.32,210.63" fill="#ff00ff" stroke="#ff00ff" stroke-width="0.6" stroke-linejoin="miter"/><polygon points="118.37,209.99 119.27,212.76 122.17,212.76 119.82,214.46 120.72,217.23 118.37,215.52 116.02,217.23 116.92,214.46 114.57,212.76 117.47,212.76" fill="#ff00ff" stroke="#ff00ff" stroke-width="0.6" stroke-linejoin="miter"/><polygon points="137.52,215.47 138.42,218.23 141.33,218.23 138.98,219.94 139.87,222.70 137.52,221.00 135.17,222.70 136.07,219.94 133.72,218.23 136.62,218.23" fill="#ff00ff" stroke="#ff00ff" stroke-width="0.6" stroke-linejoin="miter"/><polyline points="156.68,216.88 175.83,207.30 194.98,187.37 214.14,191.32 233.29,204.26 252.45,210.95" fill="none" stroke="#ff00ff" stroke-width="1.8" stroke-linejoin="round"/><polygon points="156.68,212.88 157.58,215.65 160.48,215.65 158.13,217.35 159.03,220.12 156.68,218.41 154.33,220.12 155.22,217.35 152.87,215.65 155.78,215.65" fill="#ff00ff" stroke="#ff00ff" stroke-width="0.6" stroke-linejoin="miter"/><polygon points="175.83,203.30 176.73,206.06 179.63,206.06 177.28,207.77 178.18,210.53 175.83,208.83 173.48,210.53 174.38,207.77 172.03,206.06 174.93,206.06" fill="#ff00ff" stroke="#ff00ff" stroke-width="0.6" stroke-linejoin="miter"/><polygon points="194.98,183.37 195.88,186.13 198.79,186.13 196.44,187.84 197.34,190.61 194.98,188.90 192.63,190.61 193.53,187.84 191.18,186.13 194.09,186.13" fill="#ff00ff" stroke="#ff00ff" stroke-width="0.6" stroke-linejoin="miter"/><polygon points="214.14,187.32 215.04,190.09 217.94,190.09 215.59,191.80 216.49,194.56 214.14,192.85 211.79,194.56 212.69,191.80 210.33,190.09 213.24,190.09" fill="#ff00ff" stroke="#ff00ff" stroke-width="0.6" stroke-linejoin="miter"/><polygon points="233.29,200.26 234.19,203.02 237.10,203.02 234.75,204.73 235.64,207.49 233.29,205.78 230.94,207.49 231.84,204.73 229.49,203.02 232.39,203.02" fill="#ff00ff" stroke="#ff00ff" stroke-width="0.6" stroke-linejoin="miter"/><polygon points="252.45,206.95 253.34,209.71 256.25,209.71 253.90,211.42 254.80,214.18 252.45,212.48 250.10,214.18 250.99,211.42 248.64,209.71 251.55,209.71" fill="#ff00ff" stroke="#ff00ff" stroke-width="0.6" stroke-linejoin="miter"/><polyline points="41.75,226.92 60.91,226.92 80.06,223.27 99.22,223.27 118.37,222.66 137.52,223.27" fill="none" stroke="#ffff00" stroke-width="1.8" stroke-linejoin="round"/><polygon points="41.75,222.92 42.65,225.69 45.56,225.69 43.21,227.39 44.10,230.16 41.75,228.45 39.40,230.16 40.30,227.39 37.95,225.69 40.86,225.69" fill="#ffff00" stroke="#ffff00" stroke-width="0.6" stroke-linejoin="miter"/><polygon points="60.91,222.92 61.81,225.69 64.71,225.69 62.36,227.39 63.26,230.16 60.91,228.45 58.56,230.16 59.45,227.39 57.10,225.69 60.01,225.69" fill="#ffff00" stroke="#ffff00" stroke-width="0.6" stroke-linejoin="miter"/><polygon points="80.06,219.27 80.96,222.03 83.87,222.03 81.51,223.74 82.41,226.51 80.06,224.80 77.71,226.51 78.61,223.74 76.26,222.03 79.16,222.03" fill="#ffff00" stroke="#ffff00" stroke-width="0.6" stroke-linejoin="miter"/><polygon points="99.22,219.27 100.11,222.03 103.02,222.03 100.67,223.74 101.57,226.51 99.22,224.80 96.86,226.51 97.76,223.74 95.41,222.03 98.32,222.03" fill="#ffff00" stroke="#ffff00" stroke-width="0.6" stroke-linejoin="miter"/><polygon points="118.37,218.66 119.27,221.43 122.17,221.43 119.82,223.13 120.72,225.90 118.37,224.19 116.02,225.90 116.92,223.13 114.57,221.43 117.47,221.43" fill="#ffff00" stroke="#ffff00" stroke-width="0.6" stroke-linejoin="miter"/><polygon points="137.52,219.27 138.42,222.03 141.33,222.03 138.98,223.74 139.87,226.51 137.52,224.80 135.17,226.51 136.07,223.74 133.72,222.03 136.62,222.03" fill="#ffff00" stroke="#ffff00" stroke-width="0.6" stroke-linejoin="miter"/><polyline points="156.68,218.40 175.83,213.38 194.98,194.22 214.14,199.08 233.29,206.39 252.45,196.50" fill="none" stroke="#ffff00" stroke-width="1.8" stroke-linejoin="round"/><polygon points="156.68,214.40 157.58,217.17 160.48,217.17 158.13,218.88 159.03,221.64 156.68,219.93 154.33,221.64 155.22,218.88 152.87,217.17 155.78,217.17" fill="#ffff00" stroke="#ffff00" stroke-width="0.6" stroke-linejoin="miter"/><polygon points="175.83,209.38 176.73,212.15 179.63,212.15 177.28,213.86 178.18,216.62 175.83,214.91 173.48,216.62 174.38,213.86 172.03,212.15 174.93,212.15" fill="#ffff00" stroke="#ffff00" stroke-width="0.6" stroke-linejoin="miter"/><polygon points="194.98,190.22 195.88,192.98 198.79,192.98 196.44,194.69 197.34,197.45 194.98,195.74 192.63,197.45 193.53,194.69 191.18,192.98 194.09,192.98" fill="#ffff00" stroke="#ffff00" stroke-width="0.6" stroke-linejoin="miter"/><polygon points="214.14,195.08 215.04,197.85 217.94,197.85 215.59,199.56 216.49,202.32 214.14,200.61 211.79,202.32 212.69,199.56 210.33,197.85 213.24,197.85" fill="#ffff00" stroke="#ffff00" stroke-width="0.6" stroke-linejoin="miter"/><polygon points="233.29,202.39 234.19,205.15 237.10,205.15 234.75,206.86 235.64,209.62 233.29,207.91 230.94,209.62 231.84,206.86 229.49,205.15 232.39,205.15" fill="#ffff00" stroke="#ffff00" stroke-width="0.6" stroke-linejoin="miter"/><polygon points="252.45,192.50 253.34,195.26 256.25,195.26 253.90,196.97 254.80,199.73 252.45,198.02 250.10,199.73 250.99,196.97 248.64,195.26 251.55,195.26" fill="#ffff00" stroke="#ffff00" stroke-width="0.6" stroke-linejoin="miter"/><polyline points="41.75,223.27 60.91,221.60 80.06,218.10 99.22,217.03 118.37,219.16 137.52,220.08" fill="none" stroke="#000000" stroke-width="1.8" stroke-linejoin="round"/><polygon points="41.75,219.27 42.65,222.03 45.56,222.03 43.21,223.74 44.10,226.51 41.75,224.80 39.40,226.51 40.30,223.74 37.95,222.03 40.86,222.03" fill="#000000" stroke="#000000" stroke-width="0.6" stroke-linejoin="miter"/><polygon points="60.91,217.60 61.81,220.36 64.71,220.36 62.36,222.07 63.26,224.83 60.91,223.13 58.56,224.83 59.45,222.07 57.10,220.36 60.01,220.36" fill="#000000" stroke="#000000" stroke-width="0.6" stroke-linejoin="miter"/><polygon points="80.06,214.10 80.96,216.86 83.87,216.86 81.51,218.57 82.41,221.33 80.06,219.63 77.71,221.33 78.61,218.57 76.26,216.86 79.16,216.86" fill="#000000" stroke="#000000" stroke-width="0.6" stroke-linejoin="miter"/><polygon points="99.22,213.03 100.11,215.80 103.02,215.80 100.67,217.51 101.57,220.27 99.22,218.56 96.86,220.27 97.76,217.51 95.41,215.80 98.32,215.80" fill="#000000" stroke="#000000" stroke-width="0.6" stroke-linejoin="miter"/><polygon points="118.37,215.16 119.27,217.93 122.17,217.93 119.82,219.64 120.72,222.40 118.37,220.69 116.02,222.40 116.92,219.64 114.57,217.93 117.47,217.93" fill="#000000" stroke="#000000" stroke-width="0.6" stroke-linejoin="miter"/><polygon points="137.52,216.08 138.42,218.84 141.33,218.84 138.98,220.55 139.87,223.31 137.52,221.60 135.17,223.31 136.07,220.55 133.72,218.84 136.62,218.84" fill="#000000" stroke="#000000" stroke-width="0.6" stroke-linejoin="miter"/><polyline points="156.68,210.34 175.83,213.99 194.98,199.84 214.14,198.32 233.29,208.82 252.45,204.86" fill="none" stroke="#000000" stroke-width="1.8" stroke-linejoin="round"/><polygon points="156.68,206.34 157.58,209.10 160.48,209.10 158.13,210.81 159.03,213.58 156.68,211.87 154.33,213.58 155.22,210.81 152.87,209.10 155.78,209.10" fill="#000000" stroke="#000000" stroke-width="0.6" stroke-linejoin="miter"/><polygon points="175.83,209.99 176.73,212.76 179.63,212.76 177.28,214.46 178.18,217.23 175.83,215.52 173.48,217.23 174.38,214.46 172.03,212.76 174.93,212.76" fill="#000000" stroke="#000000" stroke-width="0.6" stroke-linejoin="miter"/><polygon points="194.98,195.84 195.88,198.61 198.79,198.61 196.44,200.32 197.34,203.08 194.98,201.37 192.63,203.08 193.53,200.32 191.18,198.61 194.09,198.61" fill="#000000" stroke="#000000" stroke-width="0.6" stroke-linejoin="miter"/><polygon points="214.14,194.32 215.04,197.09 217.94,197.09 215.59,198.79 216.49,201.56 214.14,199.85 211.79,201.56 212.69,198.79 210.33,197.09 213.24,197.09" fill="#000000" stroke="#000000" stroke-width="0.6" stroke-linejoin="miter"/><polygon points="233.29,204.82 234.19,207.58 237.10,207.58 234.75,209.29 235.64,212.06 233.29,210.35 230.94,212.06 231.84,209.29 229.49,207.58 232.39,207.58" fill="#000000" stroke="#000000" stroke-width="0.6" stroke-linejoin="miter"/><polygon points="252.45,200.86 253.34,203.63 256.25,203.63 253.90,205.34 254.80,208.10 252.45,206.39 250.10,208.10 250.99,205.34 248.64,203.63 251.55,203.63" fill="#000000" stroke="#000000" stroke-width="0.6" stroke-linejoin="miter"/></g><g><rect x="296.9" y="146.6" width="249.50" height="121.70000000000002" fill="none" stroke="#8c8c8c" stroke-width="1.1"/><line x1="316.09" y1="268.3" x2="316.09" y2="265.7" stroke="#8c8c8c" stroke-width="0.9"/><line x1="316.09" y1="146.6" x2="316.09" y2="149.2" stroke="#8c8c8c" stroke-width="0.9"/><line x1="335.28" y1="268.3" x2="335.28" y2="265.7" stroke="#8c8c8c" stroke-width="0.9"/><line x1="335.28" y1="146.6" x2="335.28" y2="149.2" stroke="#8c8c8c" stroke-width="0.9"/><line x1="354.48" y1="268.3" x2="354.48" y2="265.7" stroke="#8c8c8c" stroke-width="0.9"/><line x1="354.48" y1="146.6" x2="354.48" y2="149.2" stroke="#8c8c8c" stroke-width="0.9"/><line x1="373.67" y1="268.3" x2="373.67" y2="265.7" stroke="#8c8c8c" stroke-width="0.9"/><line x1="373.67" y1="146.6" x2="373.67" y2="149.2" stroke="#8c8c8c" stroke-width="0.9"/><line x1="392.86" y1="268.3" x2="392.86" y2="265.7" stroke="#8c8c8c" stroke-width="0.9"/><line x1="392.86" y1="146.6" x2="392.86" y2="149.2" stroke="#8c8c8c" stroke-width="0.9"/><line x1="412.05" y1="268.3" x2="412.05" y2="265.7" stroke="#8c8c8c" stroke-width="0.9"/><line x1="412.05" y1="146.6" x2="412.05" y2="149.2" stroke="#8c8c8c" stroke-width="0.9"/><line x1="431.25" y1="268.3" x2="431.25" y2="265.7" stroke="#8c8c8c" stroke-width="0.9"/><line x1="431.25" y1="146.6" x2="431.25" y2="149.2" stroke="#8c8c8c" stroke-width="0.9"/><line x1="450.44" y1="268.3" x2="450.44" y2="265.7" stroke="#8c8c8c" stroke-width="0.9"/><line x1="450.44" y1="146.6" x2="450.44" y2="149.2" stroke="#8c8c8c" stroke-width="0.9"/><line x1="469.63" y1="268.3" x2="469.63" y2="265.7" stroke="#8c8c8c" stroke-width="0.9"/><line x1="469.63" y1="146.6" x2="469.63" y2="149.2" stroke="#8c8c8c" stroke-width="0.9"/><line x1="488.82" y1="268.3" x2="488.82" y2="265.7" stroke="#8c8c8c" stroke-width="0.9"/><line x1="488.82" y1="146.6" x2="488.82" y2="149.2" stroke="#8c8c8c" stroke-width="0.9"/><line x1="508.02" y1="268.3" x2="508.02" y2="265.7" stroke="#8c8c8c" stroke-width="0.9"/><line x1="508.02" y1="146.6" x2="508.02" y2="149.2" stroke="#8c8c8c" stroke-width="0.9"/><line x1="527.21" y1="268.3" x2="527.21" y2="265.7" stroke="#8c8c8c" stroke-width="0.9"/><line x1="527.21" y1="146.6" x2="527.21" y2="149.2" stroke="#8c8c8c" stroke-width="0.9"/><line x1="296.9" y1="268.30" x2="299.5" y2="268.30" stroke="#8c8c8c" stroke-width="0.9"/><line x1="546.4" y1="268.30" x2="543.8" y2="268.30" stroke="#8c8c8c" stroke-width="0.9"/><line x1="296.9" y1="248.02" x2="299.5" y2="248.02" stroke="#8c8c8c" stroke-width="0.9"/><line x1="546.4" y1="248.02" x2="543.8" y2="248.02" stroke="#8c8c8c" stroke-width="0.9"/><line x1="296.9" y1="227.73" x2="299.5" y2="227.73" stroke="#8c8c8c" stroke-width="0.9"/><line x1="546.4" y1="227.73" x2="543.8" y2="227.73" stroke="#8c8c8c" stroke-width="0.9"/><line x1="296.9" y1="207.45" x2="299.5" y2="207.45" stroke="#8c8c8c" stroke-width="0.9"/><line x1="546.4" y1="207.45" x2="543.8" y2="207.45" stroke="#8c8c8c" stroke-width="0.9"/><line x1="296.9" y1="187.17" x2="299.5" y2="187.17" stroke="#8c8c8c" stroke-width="0.9"/><line x1="546.4" y1="187.17" x2="543.8" y2="187.17" stroke="#8c8c8c" stroke-width="0.9"/><line x1="296.9" y1="166.88" x2="299.5" y2="166.88" stroke="#8c8c8c" stroke-width="0.9"/><line x1="546.4" y1="166.88" x2="543.8" y2="166.88" stroke="#8c8c8c" stroke-width="0.9"/><line x1="296.9" y1="146.60" x2="299.5" y2="146.60" stroke="#8c8c8c" stroke-width="0.9"/><line x1="546.4" y1="146.60" x2="543.8" y2="146.60" stroke="#8c8c8c" stroke-width="0.9"/><text x="293.50" y="271.20" text-anchor="end" class="tl">0.4</text><text x="293.50" y="250.92" text-anchor="end" class="tl">0.5</text><text x="293.50" y="230.63" text-anchor="end" class="tl">0.6</text><text x="293.50" y="210.35" text-anchor="end" class="tl">0.7</text><text x="293.50" y="190.07" text-anchor="end" class="tl">0.8</text><text x="293.50" y="169.78" text-anchor="end" class="tl">0.9</text><text x="293.50" y="149.50" text-anchor="end" class="tl">1</text><text x="316.09" y="277.20" text-anchor="middle" class="tl">N-H</text><text x="335.28" y="277.20" text-anchor="middle" class="tl">N-M</text><text x="354.48" y="277.20" text-anchor="middle" class="tl">N-L</text><text x="373.67" y="277.20" text-anchor="middle" class="tl">S-L</text><text x="392.86" y="277.20" text-anchor="middle" class="tl">S-M</text><text x="412.05" y="277.20" text-anchor="middle" class="tl">S-H</text><text x="431.25" y="277.20" text-anchor="middle" class="tl">N-H</text><text x="450.44" y="277.20" text-anchor="middle" class="tl">N-M</text><text x="469.63" y="277.20" text-anchor="middle" class="tl">N-L</text><text x="488.82" y="277.20" text-anchor="middle" class="tl">S-L</text><text x="508.02" y="277.20" text-anchor="middle" class="tl">S-M</text><text x="527.21" y="277.20" text-anchor="middle" class="tl">S-H</text><text transform="translate(281.90,206.95) rotate(-90)" text-anchor="middle" class="yl">PER/TECU</text><line x1="421.65" y1="146.6" x2="421.65" y2="268.3" stroke="#ff6666" stroke-width="0.9" stroke-dasharray="4,2" stroke-dashoffset="4"/><text transform="translate(306.30,261.70) scale(1,1.15)" class="yr2">2020</text><text transform="translate(431.05,261.70) scale(1,1.15)" class="yr2">2022</text><polyline points="316.09,184.53 335.28,171.95 354.48,169.11 373.67,174.79 392.86,183.52 412.05,204.61" fill="none" stroke="#ff0000" stroke-width="1.8" stroke-linejoin="round"/><polygon points="316.09,180.53 316.99,183.29 319.90,183.29 317.55,185.00 318.44,187.77 316.09,186.06 313.74,187.77 314.64,185.00 312.29,183.29 315.19,183.29" fill="#ff0000" stroke="#ff0000" stroke-width="0.6" stroke-linejoin="miter"/><polygon points="335.28,167.95 336.18,170.72 339.09,170.72 336.74,172.43 337.64,175.19 335.28,173.48 332.93,175.19 333.83,172.43 331.48,170.72 334.39,170.72" fill="#ff0000" stroke="#ff0000" stroke-width="0.6" stroke-linejoin="miter"/><polygon points="354.48,165.11 355.38,167.88 358.28,167.88 355.93,169.59 356.83,172.35 354.48,170.64 352.13,172.35 353.02,169.59 350.67,167.88 353.58,167.88" fill="#ff0000" stroke="#ff0000" stroke-width="0.6" stroke-linejoin="miter"/><polygon points="373.67,170.79 374.57,173.56 377.47,173.56 375.12,175.27 376.02,178.03 373.67,176.32 371.32,178.03 372.22,175.27 369.87,173.56 372.77,173.56" fill="#ff0000" stroke="#ff0000" stroke-width="0.6" stroke-linejoin="miter"/><polygon points="392.86,179.52 393.76,182.28 396.67,182.28 394.31,183.99 395.21,186.75 392.86,185.04 390.51,186.75 391.41,183.99 389.06,182.28 391.96,182.28" fill="#ff0000" stroke="#ff0000" stroke-width="0.6" stroke-linejoin="miter"/><polygon points="412.05,200.61 412.95,203.37 415.86,203.37 413.51,205.08 414.40,207.85 412.05,206.14 409.70,207.85 410.60,205.08 408.25,203.37 411.16,203.37" fill="#ff0000" stroke="#ff0000" stroke-width="0.6" stroke-linejoin="miter"/><polyline points="431.25,170.94 450.44,164.85 469.63,162.83 488.82,165.87 508.02,180.07" fill="none" stroke="#ff0000" stroke-width="1.8" stroke-linejoin="round"/><polygon points="431.25,166.94 432.14,169.70 435.05,169.70 432.70,171.41 433.60,174.18 431.25,172.47 428.90,174.18 429.79,171.41 427.44,169.70 430.35,169.70" fill="#ff0000" stroke="#ff0000" stroke-width="0.6" stroke-linejoin="miter"/><polygon points="450.44,160.85 451.34,163.62 454.24,163.62 451.89,165.33 452.79,168.09 450.44,166.38 448.09,168.09 448.99,165.33 446.63,163.62 449.54,163.62" fill="#ff0000" stroke="#ff0000" stroke-width="0.6" stroke-linejoin="miter"/><polygon points="469.63,158.83 470.53,161.59 473.43,161.59 471.08,163.30 471.98,166.06 469.63,164.35 467.28,166.06 468.18,163.30 465.83,161.59 468.73,161.59" fill="#ff0000" stroke="#ff0000" stroke-width="0.6" stroke-linejoin="miter"/><polygon points="488.82,161.87 489.72,164.63 492.63,164.63 490.28,166.34 491.17,169.11 488.82,167.40 486.47,169.11 487.37,166.34 485.02,164.63 487.92,164.63" fill="#ff0000" stroke="#ff0000" stroke-width="0.6" stroke-linejoin="miter"/><polygon points="508.02,176.07 508.91,178.83 511.82,178.83 509.47,180.54 510.37,183.30 508.02,181.60 505.66,183.30 506.56,180.54 504.21,178.83 507.12,178.83" fill="#ff0000" stroke="#ff0000" stroke-width="0.6" stroke-linejoin="miter"/><polyline points="316.09,179.05 335.28,170.53 354.48,165.87 373.67,170.53 392.86,184.53 412.05,215.56" fill="none" stroke="#00ff00" stroke-width="1.8" stroke-linejoin="round"/><polygon points="316.09,175.05 316.99,177.82 319.90,177.82 317.55,179.53 318.44,182.29 316.09,180.58 313.74,182.29 314.64,179.53 312.29,177.82 315.19,177.82" fill="#00ff00" stroke="#00ff00" stroke-width="0.6" stroke-linejoin="miter"/><polygon points="335.28,166.53 336.18,169.30 339.09,169.30 336.74,171.01 337.64,173.77 335.28,172.06 332.93,173.77 333.83,171.01 331.48,169.30 334.39,169.30" fill="#00ff00" stroke="#00ff00" stroke-width="0.6" stroke-linejoin="miter"/><polygon points="354.48,161.87 355.38,164.63 358.28,164.63 355.93,166.34 356.83,169.11 354.48,167.40 352.13,169.11 353.02,166.34 350.67,164.63 353.58,164.63" fill="#00ff00" stroke="#00ff00" stroke-width="0.6" stroke-linejoin="miter"/><polygon points="373.67,166.53 374.57,169.30 377.47,169.30 375.12,171.01 376.02,173.77 373.67,172.06 371.32,173.77 372.22,171.01 369.87,169.30 372.77,169.30" fill="#00ff00" stroke="#00ff00" stroke-width="0.6" stroke-linejoin="miter"/><polygon points="392.86,180.53 393.76,183.29 396.67,183.29 394.31,185.00 395.21,187.77 392.86,186.06 390.51,187.77 391.41,185.00 389.06,183.29 391.96,183.29" fill="#00ff00" stroke="#00ff00" stroke-width="0.6" stroke-linejoin="miter"/><polygon points="412.05,211.56 412.95,214.33 415.86,214.33 413.51,216.04 414.40,218.80 412.05,217.09 409.70,218.80 410.60,216.04 408.25,214.33 411.16,214.33" fill="#00ff00" stroke="#00ff00" stroke-width="0.6" stroke-linejoin="miter"/><polyline points="431.25,164.85 450.44,161.20 469.63,157.15 488.82,159.99 508.02,173.37 527.21,193.86" fill="none" stroke="#00ff00" stroke-width="1.8" stroke-linejoin="round"/><polygon points="431.25,160.85 432.14,163.62 435.05,163.62 432.70,165.33 433.60,168.09 431.25,166.38 428.90,168.09 429.79,165.33 427.44,163.62 430.35,163.62" fill="#00ff00" stroke="#00ff00" stroke-width="0.6" stroke-linejoin="miter"/><polygon points="450.44,157.20 451.34,159.97 454.24,159.97 451.89,161.68 452.79,164.44 450.44,162.73 448.09,164.44 448.99,161.68 446.63,159.97 449.54,159.97" fill="#00ff00" stroke="#00ff00" stroke-width="0.6" stroke-linejoin="miter"/><polygon points="469.63,153.15 470.53,155.91 473.43,155.91 471.08,157.62 471.98,160.38 469.63,158.68 467.28,160.38 468.18,157.62 465.83,155.91 468.73,155.91" fill="#00ff00" stroke="#00ff00" stroke-width="0.6" stroke-linejoin="miter"/><polygon points="488.82,155.99 489.72,158.75 492.63,158.75 490.28,160.46 491.17,163.22 488.82,161.51 486.47,163.22 487.37,160.46 485.02,158.75 487.92,158.75" fill="#00ff00" stroke="#00ff00" stroke-width="0.6" stroke-linejoin="miter"/><polygon points="508.02,169.37 508.91,172.14 511.82,172.14 509.47,173.85 510.37,176.61 508.02,174.90 505.66,176.61 506.56,173.85 504.21,172.14 507.12,172.14" fill="#00ff00" stroke="#00ff00" stroke-width="0.6" stroke-linejoin="miter"/><polygon points="527.21,189.86 528.11,192.62 531.01,192.62 528.66,194.33 529.56,197.10 527.21,195.39 524.86,197.10 525.75,194.33 523.40,192.62 526.31,192.62" fill="#00ff00" stroke="#00ff00" stroke-width="0.6" stroke-linejoin="miter"/><polyline points="316.09,211.91 335.28,183.92 354.48,191.63 373.67,190.21 392.86,205.62 412.05,219.21" fill="none" stroke="#0000ff" stroke-width="1.8" stroke-linejoin="round"/><polygon points="316.09,207.91 316.99,210.68 319.90,210.68 317.55,212.38 318.44,215.15 316.09,213.44 313.74,215.15 314.64,212.38 312.29,210.68 315.19,210.68" fill="#0000ff" stroke="#0000ff" stroke-width="0.6" stroke-linejoin="miter"/><polygon points="335.28,179.92 336.18,182.69 339.09,182.69 336.74,184.39 337.64,187.16 335.28,185.45 332.93,187.16 333.83,184.39 331.48,182.69 334.39,182.69" fill="#0000ff" stroke="#0000ff" stroke-width="0.6" stroke-linejoin="miter"/><polygon points="354.48,187.63 355.38,190.39 358.28,190.39 355.93,192.10 356.83,194.87 354.48,193.16 352.13,194.87 353.02,192.10 350.67,190.39 353.58,190.39" fill="#0000ff" stroke="#0000ff" stroke-width="0.6" stroke-linejoin="miter"/><polygon points="373.67,186.21 374.57,188.97 377.47,188.97 375.12,190.68 376.02,193.45 373.67,191.74 371.32,193.45 372.22,190.68 369.87,188.97 372.77,188.97" fill="#0000ff" stroke="#0000ff" stroke-width="0.6" stroke-linejoin="miter"/><polygon points="392.86,201.62 393.76,204.39 396.67,204.39 394.31,206.10 395.21,208.86 392.86,207.15 390.51,208.86 391.41,206.10 389.06,204.39 391.96,204.39" fill="#0000ff" stroke="#0000ff" stroke-width="0.6" stroke-linejoin="miter"/><polygon points="412.05,215.21 412.95,217.98 415.86,217.98 413.51,219.69 414.40,222.45 412.05,220.74 409.70,222.45 410.60,219.69 408.25,217.98 411.16,217.98" fill="#0000ff" stroke="#0000ff" stroke-width="0.6" stroke-linejoin="miter"/><polyline points="431.25,176.21 450.44,173.37 469.63,181.69 488.82,185.95 508.02,194.87" fill="none" stroke="#0000ff" stroke-width="1.8" stroke-linejoin="round"/><polygon points="431.25,172.21 432.14,174.98 435.05,174.98 432.70,176.69 433.60,179.45 431.25,177.74 428.90,179.45 429.79,176.69 427.44,174.98 430.35,174.98" fill="#0000ff" stroke="#0000ff" stroke-width="0.6" stroke-linejoin="miter"/><polygon points="450.44,169.37 451.34,172.14 454.24,172.14 451.89,173.85 452.79,176.61 450.44,174.90 448.09,176.61 448.99,173.85 446.63,172.14 449.54,172.14" fill="#0000ff" stroke="#0000ff" stroke-width="0.6" stroke-linejoin="miter"/><polygon points="469.63,177.69 470.53,180.45 473.43,180.45 471.08,182.16 471.98,184.93 469.63,183.22 467.28,184.93 468.18,182.16 465.83,180.45 468.73,180.45" fill="#0000ff" stroke="#0000ff" stroke-width="0.6" stroke-linejoin="miter"/><polygon points="488.82,181.95 489.72,184.71 492.63,184.71 490.28,186.42 491.17,189.19 488.82,187.48 486.47,189.19 487.37,186.42 485.02,184.71 487.92,184.71" fill="#0000ff" stroke="#0000ff" stroke-width="0.6" stroke-linejoin="miter"/><polygon points="508.02,190.87 508.91,193.64 511.82,193.64 509.47,195.35 510.37,198.11 508.02,196.40 505.66,198.11 506.56,195.35 504.21,193.64 507.12,193.64" fill="#0000ff" stroke="#0000ff" stroke-width="0.6" stroke-linejoin="miter"/><polyline points="316.09,185.95 335.28,172.97 354.48,166.88 373.67,171.95 392.86,205.62 412.05,233.82" fill="none" stroke="#00ffff" stroke-width="1.8" stroke-linejoin="round"/><polygon points="316.09,181.95 316.99,184.71 319.90,184.71 317.55,186.42 318.44,189.19 316.09,187.48 313.74,189.19 314.64,186.42 312.29,184.71 315.19,184.71" fill="#00ffff" stroke="#00ffff" stroke-width="0.6" stroke-linejoin="miter"/><polygon points="335.28,168.97 336.18,171.73 339.09,171.73 336.74,173.44 337.64,176.20 335.28,174.50 332.93,176.20 333.83,173.44 331.48,171.73 334.39,171.73" fill="#00ffff" stroke="#00ffff" stroke-width="0.6" stroke-linejoin="miter"/><polygon points="354.48,162.88 355.38,165.65 358.28,165.65 355.93,167.36 356.83,170.12 354.48,168.41 352.13,170.12 353.02,167.36 350.67,165.65 353.58,165.65" fill="#00ffff" stroke="#00ffff" stroke-width="0.6" stroke-linejoin="miter"/><polygon points="373.67,167.95 374.57,170.72 377.47,170.72 375.12,172.43 376.02,175.19 373.67,173.48 371.32,175.19 372.22,172.43 369.87,170.72 372.77,170.72" fill="#00ffff" stroke="#00ffff" stroke-width="0.6" stroke-linejoin="miter"/><polygon points="392.86,201.62 393.76,204.39 396.67,204.39 394.31,206.10 395.21,208.86 392.86,207.15 390.51,208.86 391.41,206.10 389.06,204.39 391.96,204.39" fill="#00ffff" stroke="#00ffff" stroke-width="0.6" stroke-linejoin="miter"/><polygon points="412.05,229.82 412.95,232.58 415.86,232.58 413.51,234.29 414.40,237.05 412.05,235.35 409.70,237.05 410.60,234.29 408.25,232.58 411.16,232.58" fill="#00ffff" stroke="#00ffff" stroke-width="0.6" stroke-linejoin="miter"/><polyline points="431.25,167.90 450.44,163.84 469.63,161.81 488.82,163.84 508.02,184.12 527.21,200.35" fill="none" stroke="#00ffff" stroke-width="1.8" stroke-linejoin="round"/><polygon points="431.25,163.90 432.14,166.66 435.05,166.66 432.70,168.37 433.60,171.13 431.25,169.43 428.90,171.13 429.79,168.37 427.44,166.66 430.35,166.66" fill="#00ffff" stroke="#00ffff" stroke-width="0.6" stroke-linejoin="miter"/><polygon points="450.44,159.84 451.34,162.60 454.24,162.60 451.89,164.31 452.79,167.08 450.44,165.37 448.09,167.08 448.99,164.31 446.63,162.60 449.54,162.60" fill="#00ffff" stroke="#00ffff" stroke-width="0.6" stroke-linejoin="miter"/><polygon points="469.63,157.81 470.53,160.58 473.43,160.58 471.08,162.28 471.98,165.05 469.63,163.34 467.28,165.05 468.18,162.28 465.83,160.58 468.73,160.58" fill="#00ffff" stroke="#00ffff" stroke-width="0.6" stroke-linejoin="miter"/><polygon points="488.82,159.84 489.72,162.60 492.63,162.60 490.28,164.31 491.17,167.08 488.82,165.37 486.47,167.08 487.37,164.31 485.02,162.60 487.92,162.60" fill="#00ffff" stroke="#00ffff" stroke-width="0.6" stroke-linejoin="miter"/><polygon points="508.02,180.12 508.91,182.89 511.82,182.89 509.47,184.60 510.37,187.36 508.02,185.65 505.66,187.36 506.56,184.60 504.21,182.89 507.12,182.89" fill="#00ffff" stroke="#00ffff" stroke-width="0.6" stroke-linejoin="miter"/><polygon points="527.21,196.35 528.11,199.11 531.01,199.11 528.66,200.82 529.56,203.59 527.21,201.88 524.86,203.59 525.75,200.82 523.40,199.11 526.31,199.11" fill="#00ffff" stroke="#00ffff" stroke-width="0.6" stroke-linejoin="miter"/><polyline points="316.09,189.19 335.28,185.95 354.48,178.44 373.67,179.46 392.86,205.62 412.05,250.05" fill="none" stroke="#ff00ff" stroke-width="1.8" stroke-linejoin="round"/><polygon points="316.09,185.19 316.99,187.96 319.90,187.96 317.55,189.67 318.44,192.43 316.09,190.72 313.74,192.43 314.64,189.67 312.29,187.96 315.19,187.96" fill="#ff00ff" stroke="#ff00ff" stroke-width="0.6" stroke-linejoin="miter"/><polygon points="335.28,181.95 336.18,184.71 339.09,184.71 336.74,186.42 337.64,189.19 335.28,187.48 332.93,189.19 333.83,186.42 331.48,184.71 334.39,184.71" fill="#ff00ff" stroke="#ff00ff" stroke-width="0.6" stroke-linejoin="miter"/><polygon points="354.48,174.44 355.38,177.21 358.28,177.21 355.93,178.92 356.83,181.68 354.48,179.97 352.13,181.68 353.02,178.92 350.67,177.21 353.58,177.21" fill="#ff00ff" stroke="#ff00ff" stroke-width="0.6" stroke-linejoin="miter"/><polygon points="373.67,175.46 374.57,178.22 377.47,178.22 375.12,179.93 376.02,182.70 373.67,180.99 371.32,182.70 372.22,179.93 369.87,178.22 372.77,178.22" fill="#ff00ff" stroke="#ff00ff" stroke-width="0.6" stroke-linejoin="miter"/><polygon points="392.86,201.62 393.76,204.39 396.67,204.39 394.31,206.10 395.21,208.86 392.86,207.15 390.51,208.86 391.41,206.10 389.06,204.39 391.96,204.39" fill="#ff00ff" stroke="#ff00ff" stroke-width="0.6" stroke-linejoin="miter"/><polygon points="412.05,246.05 412.95,248.81 415.86,248.81 413.51,250.52 414.40,253.28 412.05,251.57 409.70,253.28 410.60,250.52 408.25,248.81 411.16,248.81" fill="#ff00ff" stroke="#ff00ff" stroke-width="0.6" stroke-linejoin="miter"/><polyline points="431.25,169.11 450.44,170.53 469.63,167.69 488.82,171.95 508.02,187.17" fill="none" stroke="#ff00ff" stroke-width="1.8" stroke-linejoin="round"/><polygon points="431.25,165.11 432.14,167.88 435.05,167.88 432.70,169.59 433.60,172.35 431.25,170.64 428.90,172.35 429.79,169.59 427.44,167.88 430.35,167.88" fill="#ff00ff" stroke="#ff00ff" stroke-width="0.6" stroke-linejoin="miter"/><polygon points="450.44,166.53 451.34,169.30 454.24,169.30 451.89,171.01 452.79,173.77 450.44,172.06 448.09,173.77 448.99,171.01 446.63,169.30 449.54,169.30" fill="#ff00ff" stroke="#ff00ff" stroke-width="0.6" stroke-linejoin="miter"/><polygon points="469.63,163.69 470.53,166.46 473.43,166.46 471.08,168.17 471.98,170.93 469.63,169.22 467.28,170.93 468.18,168.17 465.83,166.46 468.73,166.46" fill="#ff00ff" stroke="#ff00ff" stroke-width="0.6" stroke-linejoin="miter"/><polygon points="488.82,167.95 489.72,170.72 492.63,170.72 490.28,172.43 491.17,175.19 488.82,173.48 486.47,175.19 487.37,172.43 485.02,170.72 487.92,170.72" fill="#ff00ff" stroke="#ff00ff" stroke-width="0.6" stroke-linejoin="miter"/><polygon points="508.02,183.17 508.91,185.93 511.82,185.93 509.47,187.64 510.37,190.40 508.02,188.69 505.66,190.40 506.56,187.64 504.21,185.93 507.12,185.93" fill="#ff00ff" stroke="#ff00ff" stroke-width="0.6" stroke-linejoin="miter"/><polyline points="316.09,182.50 335.28,164.04 354.48,161.20 373.67,165.46 392.86,185.95 412.05,211.71" fill="none" stroke="#ffff00" stroke-width="1.8" stroke-linejoin="round"/><polygon points="316.09,178.50 316.99,181.27 319.90,181.27 317.55,182.97 318.44,185.74 316.09,184.03 313.74,185.74 314.64,182.97 312.29,181.27 315.19,181.27" fill="#ffff00" stroke="#ffff00" stroke-width="0.6" stroke-linejoin="miter"/><polygon points="335.28,160.04 336.18,162.81 339.09,162.81 336.74,164.52 337.64,167.28 335.28,165.57 332.93,167.28 333.83,164.52 331.48,162.81 334.39,162.81" fill="#ffff00" stroke="#ffff00" stroke-width="0.6" stroke-linejoin="miter"/><polygon points="354.48,157.20 355.38,159.97 358.28,159.97 355.93,161.68 356.83,164.44 354.48,162.73 352.13,164.44 353.02,161.68 350.67,159.97 353.58,159.97" fill="#ffff00" stroke="#ffff00" stroke-width="0.6" stroke-linejoin="miter"/><polygon points="373.67,161.46 374.57,164.23 377.47,164.23 375.12,165.94 376.02,168.70 373.67,166.99 371.32,168.70 372.22,165.94 369.87,164.23 372.77,164.23" fill="#ffff00" stroke="#ffff00" stroke-width="0.6" stroke-linejoin="miter"/><polygon points="392.86,181.95 393.76,184.71 396.67,184.71 394.31,186.42 395.21,189.19 392.86,187.48 390.51,189.19 391.41,186.42 389.06,184.71 391.96,184.71" fill="#ffff00" stroke="#ffff00" stroke-width="0.6" stroke-linejoin="miter"/><polygon points="412.05,207.71 412.95,210.47 415.86,210.47 413.51,212.18 414.40,214.95 412.05,213.24 409.70,214.95 410.60,212.18 408.25,210.47 411.16,210.47" fill="#ffff00" stroke="#ffff00" stroke-width="0.6" stroke-linejoin="miter"/><polyline points="431.25,167.90 450.44,161.81 469.63,160.80 488.82,163.84 508.02,179.05 527.21,205.42" fill="none" stroke="#ffff00" stroke-width="1.8" stroke-linejoin="round"/><polygon points="431.25,163.90 432.14,166.66 435.05,166.66 432.70,168.37 433.60,171.13 431.25,169.43 428.90,171.13 429.79,168.37 427.44,166.66 430.35,166.66" fill="#ffff00" stroke="#ffff00" stroke-width="0.6" stroke-linejoin="miter"/><polygon points="450.44,157.81 451.34,160.58 454.24,160.58 451.89,162.28 452.79,165.05 450.44,163.34 448.09,165.05 448.99,162.28 446.63,160.58 449.54,160.58" fill="#ffff00" stroke="#ffff00" stroke-width="0.6" stroke-linejoin="miter"/><polygon points="469.63,156.80 470.53,159.56 473.43,159.56 471.08,161.27 471.98,164.03 469.63,162.33 467.28,164.03 468.18,161.27 465.83,159.56 468.73,159.56" fill="#ffff00" stroke="#ffff00" stroke-width="0.6" stroke-linejoin="miter"/><polygon points="488.82,159.84 489.72,162.60 492.63,162.60 490.28,164.31 491.17,167.08 488.82,165.37 486.47,167.08 487.37,164.31 485.02,162.60 487.92,162.60" fill="#ffff00" stroke="#ffff00" stroke-width="0.6" stroke-linejoin="miter"/><polygon points="508.02,175.05 508.91,177.82 511.82,177.82 509.47,179.53 510.37,182.29 508.02,180.58 505.66,182.29 506.56,179.53 504.21,177.82 507.12,177.82" fill="#ffff00" stroke="#ffff00" stroke-width="0.6" stroke-linejoin="miter"/><polygon points="527.21,201.42 528.11,204.19 531.01,204.19 528.66,205.89 529.56,208.66 527.21,206.95 524.86,208.66 525.75,205.89 523.40,204.19 526.31,204.19" fill="#ffff00" stroke="#ffff00" stroke-width="0.6" stroke-linejoin="miter"/><polyline points="316.09,185.95 335.28,171.95 354.48,168.51 373.67,174.79 392.86,190.41 412.05,227.73" fill="none" stroke="#000000" stroke-width="1.8" stroke-linejoin="round"/><polygon points="316.09,181.95 316.99,184.71 319.90,184.71 317.55,186.42 318.44,189.19 316.09,187.48 313.74,189.19 314.64,186.42 312.29,184.71 315.19,184.71" fill="#000000" stroke="#000000" stroke-width="0.6" stroke-linejoin="miter"/><polygon points="335.28,167.95 336.18,170.72 339.09,170.72 336.74,172.43 337.64,175.19 335.28,173.48 332.93,175.19 333.83,172.43 331.48,170.72 334.39,170.72" fill="#000000" stroke="#000000" stroke-width="0.6" stroke-linejoin="miter"/><polygon points="354.48,164.51 355.38,167.27 358.28,167.27 355.93,168.98 356.83,171.74 354.48,170.03 352.13,171.74 353.02,168.98 350.67,167.27 353.58,167.27" fill="#000000" stroke="#000000" stroke-width="0.6" stroke-linejoin="miter"/><polygon points="373.67,170.79 374.57,173.56 377.47,173.56 375.12,175.27 376.02,178.03 373.67,176.32 371.32,178.03 372.22,175.27 369.87,173.56 372.77,173.56" fill="#000000" stroke="#000000" stroke-width="0.6" stroke-linejoin="miter"/><polygon points="392.86,186.41 393.76,189.18 396.67,189.18 394.31,190.88 395.21,193.65 392.86,191.94 390.51,193.65 391.41,190.88 389.06,189.18 391.96,189.18" fill="#000000" stroke="#000000" stroke-width="0.6" stroke-linejoin="miter"/><polygon points="412.05,223.73 412.95,226.50 415.86,226.50 413.51,228.21 414.40,230.97 412.05,229.26 409.70,230.97 410.60,228.21 408.25,226.50 411.16,226.50" fill="#000000" stroke="#000000" stroke-width="0.6" stroke-linejoin="miter"/><polyline points="431.25,176.21 450.44,165.67 469.63,162.62 488.82,166.27 508.02,180.88" fill="none" stroke="#000000" stroke-width="1.8" stroke-linejoin="round"/><polygon points="431.25,172.21 432.14,174.98 435.05,174.98 432.70,176.69 433.60,179.45 431.25,177.74 428.90,179.45 429.79,176.69 427.44,174.98 430.35,174.98" fill="#000000" stroke="#000000" stroke-width="0.6" stroke-linejoin="miter"/><polygon points="450.44,161.67 451.34,164.43 454.24,164.43 451.89,166.14 452.79,168.90 450.44,167.19 448.09,168.90 448.99,166.14 446.63,164.43 449.54,164.43" fill="#000000" stroke="#000000" stroke-width="0.6" stroke-linejoin="miter"/><polygon points="469.63,158.62 470.53,161.39 473.43,161.39 471.08,163.10 471.98,165.86 469.63,164.15 467.28,165.86 468.18,163.10 465.83,161.39 468.73,161.39" fill="#000000" stroke="#000000" stroke-width="0.6" stroke-linejoin="miter"/><polygon points="488.82,162.27 489.72,165.04 492.63,165.04 490.28,166.75 491.17,169.51 488.82,167.80 486.47,169.51 487.37,166.75 485.02,165.04 487.92,165.04" fill="#000000" stroke="#000000" stroke-width="0.6" stroke-linejoin="miter"/><polygon points="508.02,176.88 508.91,179.64 511.82,179.64 509.47,181.35 510.37,184.11 508.02,182.41 505.66,184.11 506.56,181.35 504.21,179.64 507.12,179.64" fill="#000000" stroke="#000000" stroke-width="0.6" stroke-linejoin="miter"/></g><rect x="118.0" y="284.0" width="358.0" height="9.199999999999989" fill="#fff" stroke="#8c8c8c" stroke-width="1"/><line x1="119.60" y1="288.6" x2="138.10" y2="288.6" stroke="#ff0000" stroke-width="1.8"/><polygon points="128.85,284.60 129.75,287.36 132.65,287.36 130.30,289.07 131.20,291.84 128.85,290.13 126.50,291.84 127.40,289.07 125.05,287.36 127.95,287.36" fill="#ff0000" stroke="#ff0000" stroke-width="0.6" stroke-linejoin="miter"/><text x="140.20" y="291.10" class="lg">CAS-IGS</text><line x1="171.00" y1="288.6" x2="189.50" y2="288.6" stroke="#00ff00" stroke-width="1.8"/><polygon points="180.25,284.60 181.15,287.36 184.05,287.36 181.70,289.07 182.60,291.84 180.25,290.13 177.90,291.84 178.80,289.07 176.45,287.36 179.35,287.36" fill="#00ff00" stroke="#00ff00" stroke-width="0.6" stroke-linejoin="miter"/><text x="191.60" y="291.10" class="lg">COD-IGS</text><line x1="223.00" y1="288.6" x2="241.50" y2="288.6" stroke="#0000ff" stroke-width="1.8"/><polygon points="232.25,284.60 233.15,287.36 236.05,287.36 233.70,289.07 234.60,291.84 232.25,290.13 229.90,291.84 230.80,289.07 228.45,287.36 231.35,287.36" fill="#0000ff" stroke="#0000ff" stroke-width="0.6" stroke-linejoin="miter"/><text x="243.60" y="291.10" class="lg">EMR-IGS</text><line x1="274.50" y1="288.6" x2="293.00" y2="288.6" stroke="#00ffff" stroke-width="1.8"/><polygon points="283.75,284.60 284.65,287.36 287.55,287.36 285.20,289.07 286.10,291.84 283.75,290.13 281.40,291.84 282.30,289.07 279.95,287.36 282.85,287.36" fill="#00ffff" stroke="#00ffff" stroke-width="0.6" stroke-linejoin="miter"/><text x="295.10" y="291.10" class="lg">ESA-IGS</text><line x1="325.00" y1="288.6" x2="343.50" y2="288.6" stroke="#ff00ff" stroke-width="1.8"/><polygon points="334.25,284.60 335.15,287.36 338.05,287.36 335.70,289.07 336.60,291.84 334.25,290.13 331.90,291.84 332.80,289.07 330.45,287.36 333.35,287.36" fill="#ff00ff" stroke="#ff00ff" stroke-width="0.6" stroke-linejoin="miter"/><text x="345.60" y="291.10" class="lg">JPL-IGS</text><line x1="374.80" y1="288.6" x2="393.30" y2="288.6" stroke="#ffff00" stroke-width="1.8"/><polygon points="384.05,284.60 384.95,287.36 387.85,287.36 385.50,289.07 386.40,291.84 384.05,290.13 381.70,291.84 382.60,289.07 380.25,287.36 383.15,287.36" fill="#ffff00" stroke="#ffff00" stroke-width="0.6" stroke-linejoin="miter"/><text x="395.40" y="291.10" class="lg">UPC-IGS</text><line x1="425.00" y1="288.6" x2="443.50" y2="288.6" stroke="#000000" stroke-width="1.8"/><polygon points="434.25,284.60 435.15,287.36 438.05,287.36 435.70,289.07 436.60,291.84 434.25,290.13 431.90,291.84 432.80,289.07 430.45,287.36 433.35,287.36" fill="#000000" stroke="#000000" stroke-width="0.6" stroke-linejoin="miter"/><text x="445.60" y="291.10" class="lg">WHU-IGS</text></svg>
</body></html>
